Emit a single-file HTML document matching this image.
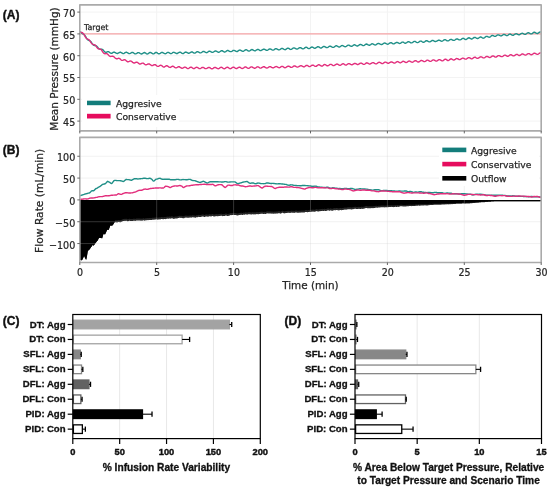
<!DOCTYPE html><html><head><meta charset="utf-8"><style>html,body{margin:0;padding:0;background:#fff;}svg{display:block;filter:blur(0.25px)}.dj{font-family:"DejaVu Sans","Liberation Sans",sans-serif;fill:#262626;stroke:#262626;stroke-width:0.25px}.lb{font-family:"Liberation Sans",Arial,sans-serif;font-weight:bold;fill:#111;stroke:#111;stroke-width:0.3px}</style></head><body>
<svg width="550" height="489" viewBox="0 0 550 489">
<rect width="550" height="489" fill="#fff"/>
<line x1="156.7" y1="4.9" x2="156.7" y2="130.9" stroke="#f3f3f3" stroke-width="1"/>
<line x1="233.6" y1="4.9" x2="233.6" y2="130.9" stroke="#f3f3f3" stroke-width="1"/>
<line x1="310.5" y1="4.9" x2="310.5" y2="130.9" stroke="#f3f3f3" stroke-width="1"/>
<line x1="387.4" y1="4.9" x2="387.4" y2="130.9" stroke="#f3f3f3" stroke-width="1"/>
<line x1="464.3" y1="4.9" x2="464.3" y2="130.9" stroke="#f3f3f3" stroke-width="1"/>
<line x1="79.8" y1="121.1" x2="541.2" y2="121.1" stroke="#f3f3f3" stroke-width="1"/>
<line x1="79.8" y1="99.3" x2="541.2" y2="99.3" stroke="#f3f3f3" stroke-width="1"/>
<line x1="79.8" y1="77.5" x2="541.2" y2="77.5" stroke="#f3f3f3" stroke-width="1"/>
<line x1="79.8" y1="55.7" x2="541.2" y2="55.7" stroke="#f3f3f3" stroke-width="1"/>
<line x1="79.8" y1="33.9" x2="541.2" y2="33.9" stroke="#f3f3f3" stroke-width="1"/>
<line x1="79.8" y1="12.1" x2="541.2" y2="12.1" stroke="#f3f3f3" stroke-width="1"/>
<line x1="79.8" y1="33.9" x2="541.2" y2="33.9" stroke="#f6a3a6" stroke-width="1.2"/>
<text class="dj" x="84.0" y="29.7" font-size="7.9">Target</text>
<path d="M80.2,31.41 L80.7,32.03 L81.2,32.62 L81.7,33.12 L82.2,33.5 L82.7,33.8 L83.2,34.02 L83.7,34.26 L84.2,34.63 L84.7,35.14 L85.2,35.84 L85.7,36.67 L86.2,37.59 L86.7,38.48 L87.2,39.21 L87.7,39.76 L88.2,40.14 L88.7,40.35 L89.2,40.52 L89.7,40.71 L90.2,41 L90.7,41.45 L91.2,42.06 L91.7,42.79 L92.2,43.58 L92.7,44.31 L93.2,44.87 L93.7,45.25 L94.2,45.45 L94.7,45.5 L95.2,45.51 L95.7,45.56 L96.2,45.78 L96.7,46.13 L97.2,46.64 L97.7,47.27 L98.2,47.9 L98.7,48.48 L99.2,48.91 L99.7,49.18 L100.2,49.3 L100.7,49.29 L101.2,49.23 L101.7,49.21 L102.2,49.32 L102.7,49.61 L103.2,50.09 L103.7,50.66 L104.2,51.26 L104.7,51.77 L105.2,52.13 L105.7,52.29 L106.2,52.27 L106.7,52.07 L107.2,51.83 L107.7,51.64 L108.2,51.6 L108.7,51.73 L109.2,52.04 L109.7,52.44 L110.2,52.84 L110.7,53.16 L111.2,53.3 L111.7,53.26 L112.2,53.04 L112.7,52.73 L113.2,52.44 L113.7,52.22 L114.2,52.18 L114.7,52.29 L115.2,52.55 L115.7,52.87 L116.2,53.19 L116.7,53.42 L117.2,53.49 L117.7,53.44 L118.2,53.22 L118.7,52.91 L119.2,52.6 L119.7,52.33 L120.2,52.23 L120.7,52.31 L121.2,52.55 L121.7,52.88 L122.2,53.22 L122.7,53.48 L123.2,53.61 L123.7,53.52 L124.2,53.26 L124.7,52.94 L125.2,52.63 L125.7,52.38 L126.2,52.27 L126.7,52.31 L127.2,52.53 L127.7,52.87 L128.2,53.2 L128.7,53.49 L129.2,53.65 L129.7,53.62 L130.2,53.41 L130.7,53.11 L131.2,52.78 L131.7,52.5 L132.2,52.39 L132.7,52.45 L133.2,52.67 L133.7,53.01 L134.2,53.39 L134.7,53.72 L135.2,53.88 L135.7,53.89 L136.2,53.7 L136.7,53.39 L137.2,53.02 L137.7,52.73 L138.2,52.59 L138.7,52.62 L139.2,52.82 L139.7,53.13 L140.2,53.47 L140.7,53.78 L141.2,53.94 L141.7,53.93 L142.2,53.73 L142.7,53.42 L143.2,53.05 L143.7,52.74 L144.2,52.55 L144.7,52.56 L145.2,52.79 L145.7,53.17 L146.2,53.56 L146.7,53.87 L147.2,53.98 L147.7,53.88 L148.2,53.6 L148.7,53.23 L149.2,52.85 L149.7,52.56 L150.2,52.46 L150.7,52.52 L151.2,52.75 L151.7,53.09 L152.2,53.46 L152.7,53.77 L153.2,53.9 L153.7,53.83 L154.2,53.54 L154.7,53.14 L155.2,52.75 L155.7,52.5 L156.2,52.42 L156.7,52.54 L157.2,52.86 L157.7,53.24 L158.2,53.57 L158.7,53.76 L159.2,53.78 L159.7,53.63 L160.2,53.34 L160.7,53.01 L161.2,52.69 L161.7,52.46 L162.2,52.4 L162.7,52.53 L163.2,52.77 L163.7,53.08 L164.2,53.38 L164.7,53.62 L165.2,53.71 L165.7,53.59 L166.2,53.33 L166.7,52.98 L167.2,52.64 L167.7,52.41 L168.2,52.36 L168.7,52.49 L169.2,52.78 L169.7,53.15 L170.2,53.47 L170.7,53.61 L171.2,53.56 L171.7,53.33 L172.2,53.01 L172.7,52.67 L173.2,52.42 L173.7,52.31 L174.2,52.38 L174.7,52.6 L175.2,52.92 L175.7,53.23 L176.2,53.47 L176.7,53.55 L177.2,53.48 L177.7,53.27 L178.2,52.95 L178.7,52.59 L179.2,52.31 L179.7,52.16 L180.2,52.2 L180.7,52.41 L181.2,52.74 L181.7,53.11 L182.2,53.42 L182.7,53.56 L183.2,53.5 L183.7,53.26 L184.2,52.9 L184.7,52.51 L185.2,52.21 L185.7,52.05 L186.2,52.1 L186.7,52.33 L187.2,52.64 L187.7,52.97 L188.2,53.21 L188.7,53.28 L189.2,53.21 L189.7,52.97 L190.2,52.64 L190.7,52.29 L191.2,52.02 L191.7,51.89 L192.2,51.96 L192.7,52.21 L193.2,52.55 L193.7,52.88 L194.2,53.1 L194.7,53.14 L195.2,52.99 L195.7,52.66 L196.2,52.26 L196.7,51.89 L197.2,51.67 L197.7,51.62 L198.2,51.79 L198.7,52.09 L199.2,52.42 L199.7,52.72 L200.2,52.87 L200.7,52.83 L201.2,52.67 L201.7,52.37 L202.2,52.02 L202.7,51.71 L203.2,51.48 L203.7,51.41 L204.2,51.53 L204.7,51.79 L205.2,52.13 L205.7,52.42 L206.2,52.64 L206.7,52.69 L207.2,52.51 L207.7,52.19 L208.2,51.79 L208.7,51.43 L209.2,51.24 L209.7,51.23 L210.2,51.38 L210.7,51.64 L211.2,51.95 L211.7,52.21 L212.2,52.36 L212.7,52.32 L213.2,52.14 L213.7,51.84 L214.2,51.51 L214.7,51.22 L215.2,51.05 L215.7,51.03 L216.2,51.17 L216.7,51.42 L217.2,51.72 L217.7,51.99 L218.2,52.18 L218.7,52.22 L219.2,52.09 L219.7,51.8 L220.2,51.45 L220.7,51.09 L221.2,50.81 L221.7,50.71 L222.2,50.76 L222.7,50.99 L223.2,51.33 L223.7,51.67 L224.2,51.94 L224.7,52.03 L225.2,51.91 L225.7,51.61 L226.2,51.22 L226.7,50.83 L227.2,50.52 L227.7,50.44 L228.2,50.54 L228.7,50.8 L229.2,51.13 L229.7,51.43 L230.2,51.62 L230.7,51.66 L231.2,51.56 L231.7,51.35 L232.2,51.05 L232.7,50.73 L233.2,50.46 L233.7,50.34 L234.2,50.34 L234.7,50.53 L235.2,50.8 L235.7,51.13 L236.2,51.4 L236.7,51.53 L237.2,51.49 L237.7,51.26 L238.2,50.89 L238.7,50.5 L239.2,50.2 L239.7,50.07 L240.2,50.1 L240.7,50.28 L241.2,50.57 L241.7,50.9 L242.2,51.17 L242.7,51.3 L243.2,51.26 L243.7,51.04 L244.2,50.71 L244.7,50.33 L245.2,50 L245.7,49.8 L246.2,49.77 L246.7,49.93 L247.2,50.24 L247.7,50.6 L248.2,50.89 L248.7,51.04 L249.2,51.04 L249.7,50.86 L250.2,50.51 L250.7,50.12 L251.2,49.79 L251.7,49.57 L252.2,49.55 L252.7,49.73 L253.2,50.04 L253.7,50.39 L254.2,50.67 L254.7,50.81 L255.2,50.79 L255.7,50.55 L256.2,50.19 L256.7,49.81 L257.2,49.52 L257.7,49.38 L258.2,49.43 L258.7,49.65 L259.2,49.97 L259.7,50.29 L260.2,50.52 L260.7,50.61 L261.2,50.5 L261.7,50.23 L262.2,49.89 L262.7,49.54 L263.2,49.27 L263.7,49.13 L264.2,49.2 L264.7,49.41 L265.2,49.7 L265.7,50 L266.2,50.22 L266.7,50.32 L267.2,50.28 L267.7,50.08 L268.2,49.77 L268.7,49.44 L269.2,49.15 L269.7,48.97 L270.2,48.94 L270.7,49.09 L271.2,49.35 L271.7,49.67 L272.2,49.94 L272.7,50.11 L273.2,50.11 L273.7,49.9 L274.2,49.58 L274.7,49.21 L275.2,48.9 L275.7,48.7 L276.2,48.69 L276.7,48.86 L277.2,49.13 L277.7,49.46 L278.2,49.75 L278.7,49.91 L279.2,49.9 L279.7,49.7 L280.2,49.39 L280.7,49.03 L281.2,48.71 L281.7,48.48 L282.2,48.41 L282.7,48.5 L283.2,48.76 L283.7,49.11 L284.2,49.44 L284.7,49.67 L285.2,49.7 L285.7,49.51 L286.2,49.16 L286.7,48.75 L287.2,48.4 L287.7,48.21 L288.2,48.18 L288.7,48.36 L289.2,48.68 L289.7,49.03 L290.2,49.33 L290.7,49.43 L291.2,49.37 L291.7,49.1 L292.2,48.74 L292.7,48.37 L293.2,48.07 L293.7,47.92 L294.2,47.92 L294.7,48.1 L295.2,48.36 L295.7,48.65 L296.2,48.88 L296.7,49 L297.2,48.99 L297.7,48.81 L298.2,48.54 L298.7,48.21 L299.2,47.91 L299.7,47.72 L300.2,47.65 L300.7,47.74 L301.2,47.98 L301.7,48.31 L302.2,48.63 L302.7,48.82 L303.2,48.83 L303.7,48.66 L304.2,48.32 L304.7,47.91 L305.2,47.56 L305.7,47.31 L306.2,47.24 L306.7,47.41 L307.2,47.71 L307.7,48.05 L308.2,48.35 L308.7,48.55 L309.2,48.56 L309.7,48.34 L310.2,47.98 L310.7,47.58 L311.2,47.26 L311.7,47.06 L312.2,47.07 L312.7,47.23 L313.2,47.51 L313.7,47.84 L314.2,48.12 L314.7,48.26 L315.2,48.21 L315.7,48.01 L316.2,47.69 L316.7,47.31 L317.2,46.95 L317.7,46.75 L318.2,46.69 L318.7,46.82 L319.2,47.12 L319.7,47.48 L320.2,47.8 L320.7,47.98 L321.2,47.97 L321.7,47.79 L322.2,47.44 L322.7,47.03 L323.2,46.66 L323.7,46.43 L324.2,46.38 L324.7,46.56 L325.2,46.88 L325.7,47.24 L326.2,47.51 L326.7,47.65 L327.2,47.64 L327.7,47.42 L328.2,47.11 L328.7,46.77 L329.2,46.45 L329.7,46.24 L330.2,46.21 L330.7,46.31 L331.2,46.52 L331.7,46.82 L332.2,47.11 L332.7,47.33 L333.2,47.4 L333.7,47.26 L334.2,47 L334.7,46.63 L335.2,46.25 L335.7,45.95 L336.2,45.79 L336.7,45.82 L337.2,46.04 L337.7,46.37 L338.2,46.7 L338.7,46.94 L339.2,47.04 L339.7,46.95 L340.2,46.68 L340.7,46.31 L341.2,45.94 L341.7,45.67 L342.2,45.55 L342.7,45.59 L343.2,45.78 L343.7,46.06 L344.2,46.36 L344.7,46.59 L345.2,46.7 L345.7,46.6 L346.2,46.36 L346.7,46 L347.2,45.62 L347.7,45.3 L348.2,45.11 L348.7,45.1 L349.2,45.27 L349.7,45.56 L350.2,45.89 L350.7,46.16 L351.2,46.31 L351.7,46.26 L352.2,46.06 L352.7,45.72 L353.2,45.33 L353.7,44.97 L354.2,44.79 L354.7,44.79 L355.2,44.99 L355.7,45.29 L356.2,45.63 L356.7,45.9 L357.2,46.04 L357.7,45.98 L358.2,45.71 L358.7,45.33 L359.2,44.94 L359.7,44.65 L360.2,44.49 L360.7,44.47 L361.2,44.61 L361.7,44.88 L362.2,45.2 L362.7,45.47 L363.2,45.61 L363.7,45.59 L364.2,45.38 L364.7,45.02 L365.2,44.6 L365.7,44.23 L366.2,44.03 L366.7,44.04 L367.2,44.25 L367.7,44.58 L368.2,44.93 L368.7,45.18 L369.2,45.29 L369.7,45.21 L370.2,44.95 L370.7,44.6 L371.2,44.21 L371.7,43.92 L372.2,43.79 L372.7,43.83 L373.2,44.04 L373.7,44.33 L374.2,44.65 L374.7,44.89 L375.2,44.98 L375.7,44.88 L376.2,44.61 L376.7,44.24 L377.2,43.87 L377.7,43.58 L378.2,43.43 L378.7,43.44 L379.2,43.58 L379.7,43.85 L380.2,44.16 L380.7,44.4 L381.2,44.52 L381.7,44.51 L382.2,44.34 L382.7,44.04 L383.2,43.67 L383.7,43.34 L384.2,43.1 L384.7,43.01 L385.2,43.1 L385.7,43.37 L386.2,43.68 L386.7,43.97 L387.2,44.17 L387.7,44.25 L388.2,44.09 L388.7,43.78 L389.2,43.42 L389.7,43.09 L390.2,42.81 L390.7,42.7 L391.2,42.75 L391.7,42.98 L392.2,43.27 L392.7,43.57 L393.2,43.78 L393.7,43.85 L394.2,43.74 L394.7,43.5 L395.2,43.15 L395.7,42.79 L396.2,42.5 L396.7,42.39 L397.2,42.43 L397.7,42.62 L398.2,42.9 L398.7,43.2 L399.2,43.41 L399.7,43.51 L400.2,43.42 L400.7,43.13 L401.2,42.75 L401.7,42.39 L402.2,42.14 L402.7,42.07 L403.2,42.16 L403.7,42.44 L404.2,42.77 L404.7,43.07 L405.2,43.22 L405.7,43.19 L406.2,42.97 L406.7,42.64 L407.2,42.28 L407.7,41.95 L408.2,41.77 L408.7,41.74 L409.2,41.92 L409.7,42.18 L410.2,42.49 L410.7,42.76 L411.2,42.88 L411.7,42.89 L412.2,42.7 L412.7,42.38 L413.2,41.98 L413.7,41.6 L414.2,41.38 L414.7,41.33 L415.2,41.46 L415.7,41.74 L416.2,42.11 L416.7,42.43 L417.2,42.61 L417.7,42.61 L418.2,42.41 L418.7,42.1 L419.2,41.73 L419.7,41.38 L420.2,41.16 L420.7,41.07 L421.2,41.16 L421.7,41.44 L422.2,41.76 L422.7,42.06 L423.2,42.24 L423.7,42.22 L424.2,42.08 L424.7,41.77 L425.2,41.38 L425.7,41 L426.2,40.75 L426.7,40.66 L427.2,40.79 L427.7,41.06 L428.2,41.39 L428.7,41.69 L429.2,41.9 L429.7,41.91 L430.2,41.76 L430.7,41.45 L431.2,41.08 L431.7,40.74 L432.2,40.5 L432.7,40.44 L433.2,40.54 L433.7,40.74 L434.2,41.02 L434.7,41.29 L435.2,41.49 L435.7,41.52 L436.2,41.41 L436.7,41.16 L437.2,40.83 L437.7,40.51 L438.2,40.26 L438.7,40.15 L439.2,40.21 L439.7,40.39 L440.2,40.67 L440.7,40.95 L441.2,41.17 L441.7,41.25 L442.2,41.14 L442.7,40.88 L443.2,40.53 L443.7,40.16 L444.2,39.85 L444.7,39.7 L445.2,39.71 L445.7,39.91 L446.2,40.24 L446.7,40.56 L447.2,40.79 L447.7,40.89 L448.2,40.81 L448.7,40.58 L449.2,40.25 L449.7,39.88 L450.2,39.56 L450.7,39.39 L451.2,39.36 L451.7,39.51 L452.2,39.78 L452.7,40.08 L453.2,40.31 L453.7,40.38 L454.2,40.29 L454.7,40.07 L455.2,39.76 L455.7,39.42 L456.2,39.14 L456.7,38.97 L457.2,38.93 L457.7,39.03 L458.2,39.28 L458.7,39.56 L459.2,39.8 L459.7,39.92 L460.2,39.89 L460.7,39.69 L461.2,39.38 L461.7,38.97 L462.2,38.58 L462.7,38.37 L463.2,38.32 L463.7,38.45 L464.2,38.74 L464.7,39.09 L465.2,39.38 L465.7,39.52 L466.2,39.47 L466.7,39.18 L467.2,38.78 L467.7,38.33 L468.2,37.98 L468.7,37.8 L469.2,37.79 L469.7,38.01 L470.2,38.35 L470.7,38.7 L471.2,38.94 L471.7,39 L472.2,38.85 L472.7,38.52 L473.2,38.1 L473.7,37.72 L474.2,37.46 L474.7,37.37 L475.2,37.47 L475.7,37.71 L476.2,38.01 L476.7,38.29 L477.2,38.45 L477.7,38.48 L478.2,38.3 L478.7,37.99 L479.2,37.62 L479.7,37.28 L480.2,37.06 L480.7,37 L481.2,37.16 L481.7,37.43 L482.2,37.76 L482.7,38.05 L483.2,38.18 L483.7,38.16 L484.2,37.91 L484.7,37.54 L485.2,37.09 L485.7,36.69 L486.2,36.42 L486.7,36.33 L487.2,36.45 L487.7,36.68 L488.2,36.95 L488.7,37.18 L489.2,37.26 L489.7,37.17 L490.2,36.88 L490.7,36.47 L491.2,36.01 L491.7,35.62 L492.2,35.38 L492.7,35.4 L493.2,35.59 L493.7,35.88 L494.2,36.17 L494.7,36.38 L495.2,36.39 L495.7,36.22 L496.2,35.93 L496.7,35.53 L497.2,35.17 L497.7,34.92 L498.2,34.84 L498.7,34.95 L499.2,35.18 L499.7,35.48 L500.2,35.73 L500.7,35.9 L501.2,35.9 L501.7,35.73 L502.2,35.42 L502.7,35.05 L503.2,34.7 L503.7,34.47 L504.2,34.42 L504.7,34.57 L505.2,34.86 L505.7,35.19 L506.2,35.46 L506.7,35.61 L507.2,35.55 L507.7,35.31 L508.2,34.96 L508.7,34.58 L509.2,34.26 L509.7,34.08 L510.2,34.06 L510.7,34.25 L511.2,34.54 L511.7,34.86 L512.2,35.15 L512.7,35.29 L513.2,35.25 L513.7,35.03 L514.2,34.71 L514.7,34.35 L515.2,34.02 L515.7,33.83 L516.2,33.77 L516.7,33.92 L517.2,34.17 L517.7,34.46 L518.2,34.69 L518.7,34.8 L519.2,34.77 L519.7,34.56 L520.2,34.26 L520.7,33.89 L521.2,33.55 L521.7,33.32 L522.2,33.24 L522.7,33.37 L523.2,33.59 L523.7,33.87 L524.2,34.17 L524.7,34.36 L525.2,34.39 L525.7,34.23 L526.2,33.94 L526.7,33.54 L527.2,33.17 L527.7,32.9 L528.2,32.78 L528.7,32.81 L529.2,32.99 L529.7,33.29 L530.2,33.6 L530.7,33.82 L531.2,33.9 L531.7,33.79 L532.2,33.52 L532.7,33.13 L533.2,32.72 L533.7,32.42 L534.2,32.26 L534.7,32.29 L535.2,32.51 L535.7,32.82 L536.2,33.15 L536.7,33.41 L537.2,33.51 L537.7,33.44 L538.2,33.19 L538.7,32.8 L539.2,32.41 L539.7,32.08 L540.2,31.9 L540.7,31.93" fill="none" stroke="#1f8f87" stroke-width="1.4" stroke-linejoin="round"/>
<path d="M80.2,32 L80.7,32.25 L81.2,32.4 L81.7,32.5 L82.2,32.64 L82.7,32.95 L83.2,33.43 L83.7,34.07 L84.2,34.89 L84.7,35.81 L85.2,36.71 L85.7,37.53 L86.2,38.16 L86.7,38.61 L87.2,38.88 L87.7,39.07 L88.2,39.28 L88.7,39.57 L89.2,40.01 L89.7,40.6 L90.2,41.33 L90.7,42.11 L91.2,42.87 L91.7,43.53 L92.2,44.02 L92.7,44.35 L93.2,44.52 L93.7,44.62 L94.2,44.71 L94.7,44.88 L95.2,45.18 L95.7,45.68 L96.2,46.34 L96.7,47.1 L97.2,47.81 L97.7,48.38 L98.2,48.74 L98.7,48.91 L99.2,48.97 L99.7,48.99 L100.2,49.07 L100.7,49.29 L101.2,49.67 L101.7,50.27 L102.2,51.01 L102.7,51.78 L103.2,52.5 L103.7,53.09 L104.2,53.51 L104.7,53.69 L105.2,53.7 L105.7,53.63 L106.2,53.57 L106.7,53.66 L107.2,53.9 L107.7,54.31 L108.2,54.8 L108.7,55.34 L109.2,55.85 L109.7,56.21 L110.2,56.42 L110.7,56.46 L111.2,56.42 L111.7,56.31 L112.2,56.22 L112.7,56.23 L113.2,56.37 L113.7,56.65 L114.2,57.1 L114.7,57.61 L115.2,58.09 L115.7,58.49 L116.2,58.73 L116.7,58.8 L117.2,58.73 L117.7,58.54 L118.2,58.34 L118.7,58.24 L119.2,58.33 L119.7,58.6 L120.2,59.03 L120.7,59.53 L121.2,59.97 L121.7,60.31 L122.2,60.41 L122.7,60.33 L123.2,60.12 L123.7,59.88 L124.2,59.74 L124.7,59.75 L125.2,59.95 L125.7,60.28 L126.2,60.72 L126.7,61.17 L127.2,61.52 L127.7,61.75 L128.2,61.78 L128.7,61.66 L129.2,61.44 L129.7,61.2 L130.2,61.06 L130.7,61.06 L131.2,61.19 L131.7,61.49 L132.2,61.91 L132.7,62.35 L133.2,62.72 L133.7,62.99 L134.2,63.05 L134.7,62.95 L135.2,62.74 L135.7,62.46 L136.2,62.25 L136.7,62.16 L137.2,62.26 L137.7,62.54 L138.2,62.95 L138.7,63.4 L139.2,63.79 L139.7,64.02 L140.2,64.03 L140.7,63.86 L141.2,63.59 L141.7,63.31 L142.2,63.13 L142.7,63.09 L143.2,63.2 L143.7,63.46 L144.2,63.84 L144.7,64.23 L145.2,64.57 L145.7,64.78 L146.2,64.78 L146.7,64.66 L147.2,64.44 L147.7,64.19 L148.2,64 L148.7,63.91 L149.2,63.97 L149.7,64.21 L150.2,64.55 L150.7,64.93 L151.2,65.29 L151.7,65.51 L152.2,65.59 L152.7,65.5 L153.2,65.25 L153.7,64.97 L154.2,64.74 L154.7,64.64 L155.2,64.72 L155.7,64.99 L156.2,65.39 L156.7,65.83 L157.2,66.18 L157.7,66.37 L158.2,66.38 L158.7,66.23 L159.2,65.96 L159.7,65.67 L160.2,65.42 L160.7,65.3 L161.2,65.4 L161.7,65.67 L162.2,66.07 L162.7,66.49 L163.2,66.83 L163.7,67.02 L164.2,66.99 L164.7,66.78 L165.2,66.43 L165.7,66.06 L166.2,65.78 L166.7,65.69 L167.2,65.8 L167.7,66.09 L168.2,66.48 L168.7,66.89 L169.2,67.22 L169.7,67.42 L170.2,67.44 L170.7,67.26 L171.2,66.94 L171.7,66.59 L172.2,66.3 L172.7,66.19 L173.2,66.28 L173.7,66.54 L174.2,66.93 L174.7,67.34 L175.2,67.66 L175.7,67.85 L176.2,67.82 L176.7,67.61 L177.2,67.32 L177.7,67.01 L178.2,66.77 L178.7,66.66 L179.2,66.75 L179.7,67 L180.2,67.34 L180.7,67.7 L181.2,68 L181.7,68.19 L182.2,68.23 L182.7,68.11 L183.2,67.85 L183.7,67.53 L184.2,67.26 L184.7,67.1 L185.2,67.14 L185.7,67.33 L186.2,67.63 L186.7,68.02 L187.2,68.35 L187.7,68.54 L188.2,68.55 L188.7,68.33 L189.2,68 L189.7,67.64 L190.2,67.34 L190.7,67.16 L191.2,67.2 L191.7,67.41 L192.2,67.79 L192.7,68.18 L193.2,68.47 L193.7,68.58 L194.2,68.51 L194.7,68.28 L195.2,67.96 L195.7,67.62 L196.2,67.36 L196.7,67.26 L197.2,67.34 L197.7,67.59 L198.2,67.94 L198.7,68.26 L199.2,68.53 L199.7,68.62 L200.2,68.57 L200.7,68.35 L201.2,68.03 L201.7,67.69 L202.2,67.45 L202.7,67.36 L203.2,67.44 L203.7,67.68 L204.2,67.97 L204.7,68.29 L205.2,68.54 L205.7,68.64 L206.2,68.63 L206.7,68.46 L207.2,68.18 L207.7,67.87 L208.2,67.61 L208.7,67.43 L209.2,67.44 L209.7,67.65 L210.2,67.95 L210.7,68.29 L211.2,68.56 L211.7,68.73 L212.2,68.75 L212.7,68.58 L213.2,68.29 L213.7,67.95 L214.2,67.65 L214.7,67.46 L215.2,67.43 L215.7,67.54 L216.2,67.78 L216.7,68.11 L217.2,68.44 L217.7,68.66 L218.2,68.74 L218.7,68.62 L219.2,68.35 L219.7,67.99 L220.2,67.63 L220.7,67.37 L221.2,67.28 L221.7,67.39 L222.2,67.66 L222.7,68.03 L223.2,68.39 L223.7,68.64 L224.2,68.74 L224.7,68.6 L225.2,68.33 L225.7,67.97 L226.2,67.6 L226.7,67.32 L227.2,67.23 L227.7,67.27 L228.2,67.5 L228.7,67.87 L229.2,68.25 L229.7,68.55 L230.2,68.69 L230.7,68.65 L231.2,68.43 L231.7,68.04 L232.2,67.64 L232.7,67.34 L233.2,67.19 L233.7,67.21 L234.2,67.45 L234.7,67.79 L235.2,68.15 L235.7,68.42 L236.2,68.55 L236.7,68.5 L237.2,68.27 L237.7,67.96 L238.2,67.62 L238.7,67.33 L239.2,67.19 L239.7,67.21 L240.2,67.41 L240.7,67.73 L241.2,68.09 L241.7,68.35 L242.2,68.49 L242.7,68.39 L243.2,68.15 L243.7,67.82 L244.2,67.47 L244.7,67.18 L245.2,67.01 L245.7,67.02 L246.2,67.2 L246.7,67.52 L247.2,67.87 L247.7,68.16 L248.2,68.34 L248.7,68.32 L249.2,68.13 L249.7,67.81 L250.2,67.42 L250.7,67.09 L251.2,66.9 L251.7,66.89 L252.2,67.03 L252.7,67.32 L253.2,67.67 L253.7,67.98 L254.2,68.22 L254.7,68.26 L255.2,68.11 L255.7,67.84 L256.2,67.47 L256.7,67.12 L257.2,66.87 L257.7,66.82 L258.2,66.92 L258.7,67.19 L259.2,67.53 L259.7,67.87 L260.2,68.1 L260.7,68.14 L261.2,67.99 L261.7,67.72 L262.2,67.37 L262.7,67.03 L263.2,66.78 L263.7,66.7 L264.2,66.77 L264.7,66.98 L265.2,67.29 L265.7,67.61 L266.2,67.86 L266.7,67.98 L267.2,67.95 L267.7,67.78 L268.2,67.48 L268.7,67.14 L269.2,66.85 L269.7,66.67 L270.2,66.65 L270.7,66.77 L271.2,67.04 L271.7,67.35 L272.2,67.63 L272.7,67.78 L273.2,67.82 L273.7,67.7 L274.2,67.44 L274.7,67.12 L275.2,66.82 L275.7,66.62 L276.2,66.55 L276.7,66.61 L277.2,66.82 L277.7,67.12 L278.2,67.43 L278.7,67.68 L279.2,67.79 L279.7,67.68 L280.2,67.41 L280.7,67.03 L281.2,66.65 L281.7,66.4 L282.2,66.33 L282.7,66.46 L283.2,66.77 L283.7,67.14 L284.2,67.49 L284.7,67.68 L285.2,67.69 L285.7,67.54 L286.2,67.25 L286.7,66.89 L287.2,66.54 L287.7,66.3 L288.2,66.17 L288.7,66.23 L289.2,66.44 L289.7,66.72 L290.2,67.02 L290.7,67.23 L291.2,67.36 L291.7,67.34 L292.2,67.15 L292.7,66.83 L293.2,66.46 L293.7,66.14 L294.2,65.94 L294.7,65.91 L295.2,66.04 L295.7,66.31 L296.2,66.62 L296.7,66.89 L297.2,67.07 L297.7,67.1 L298.2,66.95 L298.7,66.68 L299.2,66.37 L299.7,66.06 L300.2,65.82 L300.7,65.68 L301.2,65.72 L301.7,65.91 L302.2,66.19 L302.7,66.49 L303.2,66.75 L303.7,66.86 L304.2,66.77 L304.7,66.52 L305.2,66.17 L305.7,65.78 L306.2,65.46 L306.7,65.36 L307.2,65.44 L307.7,65.68 L308.2,66 L308.7,66.33 L309.2,66.55 L309.7,66.59 L310.2,66.42 L310.7,66.13 L311.2,65.78 L311.7,65.46 L312.2,65.21 L312.7,65.13 L313.2,65.2 L313.7,65.44 L314.2,65.76 L314.7,66.06 L315.2,66.28 L315.7,66.34 L316.2,66.25 L316.7,66 L317.2,65.63 L317.7,65.25 L318.2,64.92 L318.7,64.75 L319.2,64.77 L319.7,64.99 L320.2,65.32 L320.7,65.7 L321.2,66.02 L321.7,66.17 L322.2,66.1 L322.7,65.8 L323.2,65.39 L323.7,64.96 L324.2,64.64 L324.7,64.52 L325.2,64.62 L325.7,64.88 L326.2,65.22 L326.7,65.55 L327.2,65.74 L327.7,65.79 L328.2,65.63 L328.7,65.33 L329.2,64.96 L329.7,64.63 L330.2,64.39 L330.7,64.32 L331.2,64.41 L331.7,64.65 L332.2,64.98 L332.7,65.31 L333.2,65.54 L333.7,65.6 L334.2,65.49 L334.7,65.24 L335.2,64.9 L335.7,64.53 L336.2,64.23 L336.7,64.06 L337.2,64.05 L337.7,64.22 L338.2,64.5 L338.7,64.81 L339.2,65.07 L339.7,65.21 L340.2,65.23 L340.7,65.05 L341.2,64.74 L341.7,64.37 L342.2,64.03 L342.7,63.82 L343.2,63.78 L343.7,63.93 L344.2,64.24 L344.7,64.61 L345.2,64.91 L345.7,65.07 L346.2,65.03 L346.7,64.79 L347.2,64.43 L347.7,64.05 L348.2,63.74 L348.7,63.6 L349.2,63.62 L349.7,63.83 L350.2,64.13 L350.7,64.44 L351.2,64.68 L351.7,64.79 L352.2,64.72 L352.7,64.51 L353.2,64.17 L353.7,63.81 L354.2,63.52 L354.7,63.4 L355.2,63.43 L355.7,63.61 L356.2,63.9 L356.7,64.21 L357.2,64.46 L357.7,64.52 L358.2,64.45 L358.7,64.23 L359.2,63.88 L359.7,63.52 L360.2,63.23 L360.7,63.08 L361.2,63.08 L361.7,63.27 L362.2,63.59 L362.7,63.94 L363.2,64.23 L363.7,64.37 L364.2,64.36 L364.7,64.12 L365.2,63.75 L365.7,63.34 L366.2,63 L366.7,62.81 L367.2,62.84 L367.7,63.07 L368.2,63.39 L368.7,63.73 L369.2,63.98 L369.7,64.07 L370.2,63.99 L370.7,63.74 L371.2,63.42 L371.7,63.09 L372.2,62.8 L372.7,62.66 L373.2,62.64 L373.7,62.78 L374.2,63.06 L374.7,63.39 L375.2,63.67 L375.7,63.85 L376.2,63.87 L376.7,63.71 L377.2,63.41 L377.7,63.04 L378.2,62.67 L378.7,62.41 L379.2,62.3 L379.7,62.38 L380.2,62.59 L380.7,62.91 L381.2,63.22 L381.7,63.51 L382.2,63.63 L382.7,63.56 L383.2,63.3 L383.7,62.94 L384.2,62.56 L384.7,62.27 L385.2,62.11 L385.7,62.16 L386.2,62.36 L386.7,62.66 L387.2,62.97 L387.7,63.22 L388.2,63.3 L388.7,63.2 L389.2,62.94 L389.7,62.6 L390.2,62.26 L390.7,62.01 L391.2,61.9 L391.7,61.97 L392.2,62.17 L392.7,62.45 L393.2,62.74 L393.7,62.98 L394.2,63.08 L394.7,63.01 L395.2,62.79 L395.7,62.47 L396.2,62.11 L396.7,61.79 L397.2,61.59 L397.7,61.57 L398.2,61.74 L398.7,62.03 L399.2,62.39 L399.7,62.69 L400.2,62.83 L400.7,62.74 L401.2,62.47 L401.7,62.09 L402.2,61.69 L402.7,61.41 L403.2,61.29 L403.7,61.37 L404.2,61.62 L404.7,61.93 L405.2,62.24 L405.7,62.43 L406.2,62.46 L406.7,62.36 L407.2,62.1 L407.7,61.77 L408.2,61.43 L408.7,61.16 L409.2,61.04 L409.7,61.11 L410.2,61.32 L410.7,61.61 L411.2,61.9 L411.7,62.09 L412.2,62.19 L412.7,62.11 L413.2,61.86 L413.7,61.52 L414.2,61.14 L414.7,60.85 L415.2,60.7 L415.7,60.73 L416.2,60.92 L416.7,61.21 L417.2,61.54 L417.7,61.83 L418.2,61.99 L418.7,61.96 L419.2,61.76 L419.7,61.41 L420.2,61.03 L420.7,60.7 L421.2,60.5 L421.7,60.47 L422.2,60.59 L422.7,60.88 L423.2,61.21 L423.7,61.5 L424.2,61.62 L424.7,61.6 L425.2,61.41 L425.7,61.07 L426.2,60.69 L426.7,60.37 L427.2,60.17 L427.7,60.14 L428.2,60.3 L428.7,60.6 L429.2,60.94 L429.7,61.22 L430.2,61.37 L430.7,61.36 L431.2,61.14 L431.7,60.79 L432.2,60.41 L432.7,60.06 L433.2,59.88 L433.7,59.87 L434.2,60.07 L434.7,60.37 L435.2,60.7 L435.7,60.95 L436.2,61.07 L436.7,61 L437.2,60.76 L437.7,60.42 L438.2,60.05 L438.7,59.75 L439.2,59.6 L439.7,59.6 L440.2,59.8 L440.7,60.1 L441.2,60.44 L441.7,60.71 L442.2,60.86 L442.7,60.8 L443.2,60.55 L443.7,60.17 L444.2,59.74 L444.7,59.38 L445.2,59.19 L445.7,59.23 L446.2,59.48 L446.7,59.86 L447.2,60.24 L447.7,60.51 L448.2,60.58 L448.7,60.4 L449.2,60.04 L449.7,59.59 L450.2,59.17 L450.7,58.88 L451.2,58.81 L451.7,58.97 L452.2,59.28 L452.7,59.62 L453.2,59.9 L453.7,60.05 L454.2,59.97 L454.7,59.71 L455.2,59.36 L455.7,58.99 L456.2,58.67 L456.7,58.53 L457.2,58.58 L457.7,58.75 L458.2,59 L458.7,59.3 L459.2,59.51 L459.7,59.58 L460.2,59.47 L460.7,59.24 L461.2,58.91 L461.7,58.55 L462.2,58.26 L462.7,58.14 L463.2,58.17 L463.7,58.36 L464.2,58.64 L464.7,58.91 L465.2,59.08 L465.7,59.13 L466.2,59.04 L466.7,58.78 L467.2,58.43 L467.7,58.07 L468.2,57.79 L468.7,57.65 L469.2,57.66 L469.7,57.85 L470.2,58.16 L470.7,58.5 L471.2,58.71 L471.7,58.82 L472.2,58.71 L472.7,58.39 L473.2,57.99 L473.7,57.59 L474.2,57.31 L474.7,57.19 L475.2,57.24 L475.7,57.47 L476.2,57.79 L476.7,58.07 L477.2,58.28 L477.7,58.37 L478.2,58.25 L478.7,57.99 L479.2,57.63 L479.7,57.26 L480.2,56.97 L480.7,56.82 L481.2,56.83 L481.7,56.99 L482.2,57.25 L482.7,57.55 L483.2,57.81 L483.7,57.93 L484.2,57.84 L484.7,57.6 L485.2,57.24 L485.7,56.86 L486.2,56.53 L486.7,56.33 L487.2,56.34 L487.7,56.53 L488.2,56.82 L488.7,57.13 L489.2,57.36 L489.7,57.48 L490.2,57.43 L490.7,57.19 L491.2,56.82 L491.7,56.42 L492.2,56.09 L492.7,55.93 L493.2,55.94 L493.7,56.14 L494.2,56.44 L494.7,56.77 L495.2,57.04 L495.7,57.14 L496.2,57.02 L496.7,56.73 L497.2,56.33 L497.7,55.96 L498.2,55.68 L498.7,55.58 L499.2,55.63 L499.7,55.83 L500.2,56.11 L500.7,56.39 L501.2,56.6 L501.7,56.65 L502.2,56.54 L502.7,56.31 L503.2,55.95 L503.7,55.57 L504.2,55.3 L504.7,55.15 L505.2,55.17 L505.7,55.38 L506.2,55.68 L506.7,55.99 L507.2,56.2 L507.7,56.31 L508.2,56.21 L508.7,55.92 L509.2,55.54 L509.7,55.18 L510.2,54.9 L510.7,54.75 L511.2,54.8 L511.7,55.01 L512.2,55.3 L512.7,55.6 L513.2,55.81 L513.7,55.88 L514.2,55.75 L514.7,55.47 L515.2,55.11 L515.7,54.75 L516.2,54.47 L516.7,54.35 L517.2,54.41 L517.7,54.66 L518.2,54.99 L518.7,55.29 L519.2,55.47 L519.7,55.48 L520.2,55.26 L520.7,54.91 L521.2,54.52 L521.7,54.19 L522.2,54.02 L522.7,54.03 L523.2,54.18 L523.7,54.44 L524.2,54.71 L524.7,54.93 L525.2,55.08 L525.7,55.02 L526.2,54.82 L526.7,54.52 L527.2,54.17 L527.7,53.84 L528.2,53.64 L528.7,53.58 L529.2,53.7 L529.7,53.96 L530.2,54.27 L530.7,54.56 L531.2,54.74 L531.7,54.7 L532.2,54.5 L532.7,54.13 L533.2,53.73 L533.7,53.4 L534.2,53.21 L534.7,53.18 L535.2,53.33 L535.7,53.6 L536.2,53.91 L536.7,54.18 L537.2,54.33 L537.7,54.28 L538.2,54.08 L538.7,53.77 L539.2,53.4 L539.7,53.06 L540.2,52.82 L540.7,52.74" fill="none" stroke="#e22e7c" stroke-width="1.4" stroke-linejoin="round"/>
<rect x="82" y="95" width="97" height="32" fill="#fff"/>
<rect x="87" y="100.7" width="23.6" height="4.5" fill="#137d7b"/>
<rect x="87" y="113.8" width="23.6" height="4.7" fill="#e60c5e"/>
<text class="dj" x="116" y="106.6" font-size="9.2">Aggresive</text>
<text class="dj" x="116" y="119.7" font-size="9.2">Conservative</text>
<rect x="79.8" y="4.9" width="461.4" height="126" fill="none" stroke="#aaaaaa" stroke-width="1.6" stroke-linejoin="round"/>
<line x1="77.3" y1="121.1" x2="79.8" y2="121.1" stroke="#555" stroke-width="0.9"/>
<text class="dj" transform="translate(75.3,125.9) scale(0.88,1)" font-size="10.9" text-anchor="end">45</text>
<line x1="77.3" y1="99.3" x2="79.8" y2="99.3" stroke="#555" stroke-width="0.9"/>
<text class="dj" transform="translate(75.3,104.1) scale(0.88,1)" font-size="10.9" text-anchor="end">50</text>
<line x1="77.3" y1="77.5" x2="79.8" y2="77.5" stroke="#555" stroke-width="0.9"/>
<text class="dj" transform="translate(75.3,82.3) scale(0.88,1)" font-size="10.9" text-anchor="end">55</text>
<line x1="77.3" y1="55.7" x2="79.8" y2="55.7" stroke="#555" stroke-width="0.9"/>
<text class="dj" transform="translate(75.3,60.5) scale(0.88,1)" font-size="10.9" text-anchor="end">60</text>
<line x1="77.3" y1="33.9" x2="79.8" y2="33.9" stroke="#555" stroke-width="0.9"/>
<text class="dj" transform="translate(75.3,38.7) scale(0.88,1)" font-size="10.9" text-anchor="end">65</text>
<line x1="77.3" y1="12.1" x2="79.8" y2="12.1" stroke="#555" stroke-width="0.9"/>
<text class="dj" transform="translate(75.3,16.9) scale(0.88,1)" font-size="10.9" text-anchor="end">70</text>
<line x1="79.8" y1="130.9" x2="79.8" y2="133.4" stroke="#555" stroke-width="0.9"/>
<line x1="156.7" y1="130.9" x2="156.7" y2="133.4" stroke="#555" stroke-width="0.9"/>
<line x1="233.6" y1="130.9" x2="233.6" y2="133.4" stroke="#555" stroke-width="0.9"/>
<line x1="310.5" y1="130.9" x2="310.5" y2="133.4" stroke="#555" stroke-width="0.9"/>
<line x1="387.4" y1="130.9" x2="387.4" y2="133.4" stroke="#555" stroke-width="0.9"/>
<line x1="464.3" y1="130.9" x2="464.3" y2="133.4" stroke="#555" stroke-width="0.9"/>
<line x1="541.2" y1="130.9" x2="541.2" y2="133.4" stroke="#555" stroke-width="0.9"/>
<text class="dj" font-size="10.5" text-anchor="middle" transform="translate(58.0,69) rotate(-90)">Mean Pressure (mmHg)</text>
<path d="M80.2,199.9 L80.2,260.01 L80.7,260.06 L81.2,260.21 L81.7,260.24 L82.2,260.12 L82.7,259.11 L83.2,257.9 L83.7,256.68 L84.2,255.96 L84.7,257.13 L85.2,258.33 L85.7,259.35 L86.2,259.7 L86.7,257.72 L87.2,254.75 L87.7,251.55 L88.2,250.56 L88.7,250.21 L89.2,249.75 L89.7,249.17 L90.2,248.39 L90.7,247.77 L91.2,247.12 L91.7,246.59 L92.2,245.55 L92.7,244.88 L93.2,245.2 L93.7,245.72 L94.2,244.89 L94.7,244.16 L95.2,243.41 L95.7,242.71 L96.2,242.25 L96.7,241.56 L97.2,241.09 L97.7,240.45 L98.2,239.61 L98.7,238.54 L99.2,237.66 L99.7,237.91 L100.2,237.93 L100.7,238.06 L101.2,238.07 L101.7,238.36 L102.2,238.13 L102.7,236.4 L103.2,234.68 L103.7,233.77 L104.2,234.16 L104.7,234.37 L105.2,234.16 L105.7,233.01 L106.2,232.01 L106.7,230.78 L107.2,229.83 L107.7,229.78 L108.2,229.9 L108.7,229.73 L109.2,228.45 L109.7,227.2 L110.2,225.76 L110.7,225.48 L111.2,225.55 L111.7,225.7 L112.2,225.52 L112.7,225.14 L113.2,224.53 L113.7,223.65 L114.2,222.73 L114.7,222.32 L115.2,222.34 L115.7,222.14 L116.2,222.29 L116.7,222.57 L117.2,222.47 L117.7,222.34 L118.2,221.92 L118.7,222.1 L119.2,221.9 L119.7,222.14 L120.2,222.16 L120.7,222.14 L121.2,222.09 L121.7,221.74 L122.2,221.49 L122.7,221.25 L123.2,221.06 L123.7,221.02 L124.2,220.86 L124.7,221.01 L125.2,220.92 L125.7,220.69 L126.2,220.72 L126.7,220.78 L127.2,221.13 L127.7,221.13 L128.2,221.15 L128.7,220.94 L129.2,220.78 L129.7,220.87 L130.2,220.92 L130.7,220.92 L131.2,220.9 L131.7,221.03 L132.2,221 L132.7,220.91 L133.2,220.81 L133.7,220.69 L134.2,220.63 L134.7,220.72 L135.2,220.83 L135.7,220.92 L136.2,220.52 L136.7,220.47 L137.2,220.47 L137.7,220.46 L138.2,220.53 L138.7,220.54 L139.2,220.55 L139.7,220.54 L140.2,220.46 L140.7,220.7 L141.2,220.58 L141.7,220.67 L142.2,220.68 L142.7,220.54 L143.2,220.27 L143.7,220.23 L144.2,220.6 L144.7,220.66 L145.2,220.55 L145.7,220.37 L146.2,220.36 L146.7,220.28 L147.2,220.13 L147.7,220.11 L148.2,220.17 L148.7,220.12 L149.2,220.09 L149.7,220.12 L150.2,219.98 L150.7,220.01 L151.2,219.96 L151.7,220.04 L152.2,219.86 L152.7,219.85 L153.2,219.78 L153.7,219.73 L154.2,219.55 L154.7,219.69 L155.2,219.62 L155.7,219.54 L156.2,219.35 L156.7,219.61 L157.2,219.62 L157.7,219.79 L158.2,219.48 L158.7,219.4 L159.2,219.28 L159.7,219.53 L160.2,219.54 L160.7,219.33 L161.2,218.99 L161.7,218.98 L162.2,218.93 L162.7,219.17 L163.2,219.25 L163.7,219.21 L164.2,218.96 L164.7,218.91 L165.2,219.06 L165.7,219.23 L166.2,219.01 L166.7,218.76 L167.2,218.52 L167.7,218.66 L168.2,218.68 L168.7,218.66 L169.2,218.47 L169.7,218.5 L170.2,218.49 L170.7,218.66 L171.2,218.53 L171.7,218.34 L172.2,218.33 L172.7,218.59 L173.2,218.96 L173.7,218.73 L174.2,218.73 L174.7,218.68 L175.2,218.57 L175.7,218.46 L176.2,218.4 L176.7,218.55 L177.2,218.43 L177.7,218.18 L178.2,218.03 L178.7,217.89 L179.2,217.77 L179.7,217.84 L180.2,217.84 L180.7,218.11 L181.2,217.87 L181.7,218.09 L182.2,218.02 L182.7,218.34 L183.2,218.31 L183.7,218.37 L184.2,218.2 L184.7,217.82 L185.2,217.74 L185.7,217.55 L186.2,217.64 L186.7,217.58 L187.2,217.69 L187.7,217.71 L188.2,217.8 L188.7,217.8 L189.2,217.75 L189.7,217.45 L190.2,217.52 L190.7,217.55 L191.2,217.74 L191.7,217.51 L192.2,217.37 L192.7,217.24 L193.2,217.4 L193.7,217.36 L194.2,217.44 L194.7,217.46 L195.2,217.68 L195.7,217.67 L196.2,217.28 L196.7,217.18 L197.2,217.17 L197.7,217.16 L198.2,216.99 L198.7,216.73 L199.2,216.89 L199.7,216.93 L200.2,216.98 L200.7,217.06 L201.2,216.86 L201.7,216.67 L202.2,216.38 L202.7,216.41 L203.2,216.38 L203.7,216.7 L204.2,216.96 L204.7,216.94 L205.2,216.73 L205.7,216.49 L206.2,216.55 L206.7,216.47 L207.2,216.57 L207.7,216.65 L208.2,216.63 L208.7,216.42 L209.2,216.29 L209.7,216.17 L210.2,216.29 L210.7,216.42 L211.2,216.5 L211.7,216.28 L212.2,216.04 L212.7,216.01 L213.2,216.19 L213.7,216.41 L214.2,216.39 L214.7,216.44 L215.2,216.35 L215.7,216.34 L216.2,216.15 L216.7,216.07 L217.2,216.15 L217.7,216.14 L218.2,216.2 L218.7,216.07 L219.2,215.98 L219.7,215.89 L220.2,215.95 L220.7,215.86 L221.2,215.79 L221.7,215.65 L222.2,215.95 L222.7,216.13 L223.2,216.08 L223.7,216.06 L224.2,215.98 L224.7,215.91 L225.2,215.71 L225.7,215.42 L226.2,215.61 L226.7,215.66 L227.2,215.94 L227.7,215.91 L228.2,215.88 L228.7,215.8 L229.2,215.68 L229.7,215.43 L230.2,215.34 L230.7,215.09 L231.2,215.08 L231.7,215.13 L232.2,215.12 L232.7,215.07 L233.2,214.78 L233.7,215.08 L234.2,215.09 L234.7,215.04 L235.2,214.99 L235.7,214.95 L236.2,215.25 L236.7,215.15 L237.2,215.41 L237.7,215.43 L238.2,215.37 L238.7,215.33 L239.2,214.93 L239.7,214.98 L240.2,214.84 L240.7,215.09 L241.2,214.8 L241.7,214.86 L242.2,214.93 L242.7,214.88 L243.2,214.68 L243.7,214.51 L244.2,214.79 L244.7,214.73 L245.2,214.55 L245.7,214.29 L246.2,214.42 L246.7,214.62 L247.2,214.65 L247.7,214.53 L248.2,214.36 L248.7,214.31 L249.2,214.31 L249.7,214.16 L250.2,214.19 L250.7,214.4 L251.2,214.51 L251.7,214.59 L252.2,214.24 L252.7,214.34 L253.2,214.32 L253.7,214.51 L254.2,214.42 L254.7,214.29 L255.2,214.26 L255.7,214.39 L256.2,214.24 L256.7,214 L257.2,213.92 L257.7,214.21 L258.2,214.36 L258.7,214.22 L259.2,214.12 L259.7,213.97 L260.2,213.88 L260.7,213.65 L261.2,213.8 L261.7,213.8 L262.2,213.79 L262.7,213.81 L263.2,214.05 L263.7,214.06 L264.2,214.04 L264.7,213.81 L265.2,214.01 L265.7,213.94 L266.2,213.87 L266.7,213.59 L267.2,213.35 L267.7,213.42 L268.2,213.46 L268.7,213.5 L269.2,213.44 L269.7,213.39 L270.2,213.62 L270.7,213.51 L271.2,213.76 L271.7,213.62 L272.2,213.78 L272.7,213.56 L273.2,213.68 L273.7,213.75 L274.2,213.77 L274.7,213.61 L275.2,213.55 L275.7,213.65 L276.2,213.6 L276.7,213.58 L277.2,213.6 L277.7,213.61 L278.2,213.39 L278.7,213.08 L279.2,213.16 L279.7,213.32 L280.2,213.59 L280.7,213.63 L281.2,213.44 L281.7,213.11 L282.2,212.85 L282.7,212.81 L283.2,213 L283.7,213.22 L284.2,213.49 L284.7,213.29 L285.2,213.27 L285.7,213.02 L286.2,213.07 L286.7,212.99 L287.2,212.88 L287.7,212.73 L288.2,212.75 L288.7,212.82 L289.2,212.9 L289.7,212.78 L290.2,212.92 L290.7,212.76 L291.2,212.64 L291.7,212.53 L292.2,212.7 L292.7,212.63 L293.2,212.67 L293.7,212.84 L294.2,212.89 L294.7,212.86 L295.2,212.5 L295.7,212.44 L296.2,212.47 L296.7,212.45 L297.2,212.67 L297.7,212.75 L298.2,212.73 L298.7,212.73 L299.2,212.5 L299.7,212.75 L300.2,212.65 L300.7,212.59 L301.2,212.52 L301.7,212.44 L302.2,212.62 L302.7,212.42 L303.2,212.43 L303.7,212.46 L304.2,212.59 L304.7,212.47 L305.2,212.1 L305.7,212 L306.2,211.89 L306.7,212.1 L307.2,212.14 L307.7,212.2 L308.2,211.95 L308.7,211.91 L309.2,211.9 L309.7,211.87 L310.2,211.93 L310.7,211.91 L311.2,211.86 L311.7,211.84 L312.2,211.61 L312.7,211.66 L313.2,211.54 L313.7,211.69 L314.2,211.75 L314.7,211.69 L315.2,211.6 L315.7,211.47 L316.2,211.25 L316.7,211.07 L317.2,211.19 L317.7,211.39 L318.2,211.55 L318.7,211.53 L319.2,211.34 L319.7,211.2 L320.2,211.02 L320.7,211.2 L321.2,211.08 L321.7,211.09 L322.2,210.81 L322.7,211.07 L323.2,210.98 L323.7,210.98 L324.2,210.8 L324.7,210.85 L325.2,210.99 L325.7,210.94 L326.2,211.03 L326.7,210.73 L327.2,210.67 L327.7,210.34 L328.2,210.31 L328.7,210.48 L329.2,210.7 L329.7,210.7 L330.2,210.43 L330.7,210.27 L331.2,210.46 L331.7,210.68 L332.2,210.78 L332.7,210.69 L333.2,210.39 L333.7,210.22 L334.2,210.03 L334.7,210.15 L335.2,210.19 L335.7,210.16 L336.2,210.02 L336.7,210.07 L337.2,209.97 L337.7,210.16 L338.2,210.17 L338.7,210.49 L339.2,210.29 L339.7,210.13 L340.2,209.96 L340.7,210.02 L341.2,210.15 L341.7,210.16 L342.2,210 L342.7,209.92 L343.2,209.82 L343.7,209.9 L344.2,209.82 L344.7,209.61 L345.2,209.64 L345.7,209.58 L346.2,209.73 L346.7,209.61 L347.2,209.5 L347.7,209.36 L348.2,209.33 L348.7,209.15 L349.2,209.23 L349.7,209.24 L350.2,209.35 L350.7,209.34 L351.2,209.42 L351.7,209.55 L352.2,209.36 L352.7,209.27 L353.2,209.15 L353.7,209.09 L354.2,208.91 L354.7,208.74 L355.2,208.72 L355.7,208.75 L356.2,208.96 L356.7,209.01 L357.2,209.09 L357.7,208.98 L358.2,208.88 L358.7,208.84 L359.2,208.78 L359.7,209.01 L360.2,208.93 L360.7,208.95 L361.2,208.74 L361.7,208.74 L362.2,208.77 L362.7,208.92 L363.2,208.77 L363.7,208.69 L364.2,208.54 L364.7,208.41 L365.2,208.16 L365.7,208 L366.2,208.01 L366.7,208.02 L367.2,208.13 L367.7,208.26 L368.2,208.35 L368.7,208.3 L369.2,208.26 L369.7,208.16 L370.2,208.15 L370.7,208.16 L371.2,208.16 L371.7,208.05 L372.2,208.06 L372.7,208.13 L373.2,208.16 L373.7,207.98 L374.2,207.9 L374.7,207.94 L375.2,207.87 L375.7,207.69 L376.2,207.55 L376.7,207.69 L377.2,207.7 L377.7,207.75 L378.2,207.56 L378.7,207.55 L379.2,207.44 L379.7,207.48 L380.2,207.44 L380.7,207.37 L381.2,207.27 L381.7,207.24 L382.2,207.35 L382.7,207.31 L383.2,207.24 L383.7,207.2 L384.2,207.28 L384.7,207.44 L385.2,207.3 L385.7,207.28 L386.2,207.17 L386.7,207.14 L387.2,207.26 L387.7,207.19 L388.2,207.18 L388.7,207.03 L389.2,206.99 L389.7,207.1 L390.2,207.04 L390.7,207.01 L391.2,206.83 L391.7,206.91 L392.2,206.92 L392.7,207.09 L393.2,206.99 L393.7,207.14 L394.2,206.98 L394.7,206.9 L395.2,206.71 L395.7,206.81 L396.2,206.88 L396.7,206.88 L397.2,206.67 L397.7,206.66 L398.2,206.79 L398.7,206.89 L399.2,206.69 L399.7,206.43 L400.2,206.29 L400.7,206.3 L401.2,206.28 L401.7,206.25 L402.2,206.34 L402.7,206.52 L403.2,206.53 L403.7,206.58 L404.2,206.45 L404.7,206.57 L405.2,206.53 L405.7,206.61 L406.2,206.4 L406.7,206.24 L407.2,206.13 L407.7,206.32 L408.2,206.24 L408.7,206.14 L409.2,206.1 L409.7,206.08 L410.2,206.07 L410.7,205.93 L411.2,206.03 L411.7,206.13 L412.2,206.07 L412.7,206.05 L413.2,205.98 L413.7,206.1 L414.2,206.03 L414.7,206.05 L415.2,205.92 L415.7,205.86 L416.2,205.69 L416.7,205.75 L417.2,205.74 L417.7,205.72 L418.2,205.57 L418.7,205.6 L419.2,205.64 L419.7,205.73 L420.2,205.63 L420.7,205.58 L421.2,205.45 L421.7,205.49 L422.2,205.38 L422.7,205.42 L423.2,205.4 L423.7,205.51 L424.2,205.41 L424.7,205.29 L425.2,205.3 L425.7,205.38 L426.2,205.48 L426.7,205.46 L427.2,205.4 L427.7,205.38 L428.2,205.33 L428.7,205.29 L429.2,205.16 L429.7,205.02 L430.2,205.01 L430.7,205.09 L431.2,205.08 L431.7,205.09 L432.2,204.91 L432.7,204.88 L433.2,204.87 L433.7,204.88 L434.2,204.85 L434.7,204.74 L435.2,204.79 L435.7,204.86 L436.2,204.81 L436.7,204.72 L437.2,204.76 L437.7,204.77 L438.2,204.81 L438.7,204.69 L439.2,204.76 L439.7,204.74 L440.2,204.78 L440.7,204.72 L441.2,204.63 L441.7,204.5 L442.2,204.41 L442.7,204.49 L443.2,204.45 L443.7,204.42 L444.2,204.42 L444.7,204.41 L445.2,204.53 L445.7,204.37 L446.2,204.39 L446.7,204.26 L447.2,204.35 L447.7,204.35 L448.2,204.39 L448.7,204.36 L449.2,204.37 L449.7,204.31 L450.2,204.26 L450.7,204.17 L451.2,204.11 L451.7,204.13 L452.2,204.12 L452.7,204.2 L453.2,204.09 L453.7,204.06 L454.2,203.99 L454.7,204.04 L455.2,203.95 L455.7,203.91 L456.2,203.85 L456.7,203.83 L457.2,203.84 L457.7,203.85 L458.2,203.87 L458.7,203.86 L459.2,203.82 L459.7,203.77 L460.2,203.71 L460.7,203.74 L461.2,203.73 L461.7,203.72 L462.2,203.58 L462.7,203.54 L463.2,203.48 L463.7,203.57 L464.2,203.61 L464.7,203.67 L465.2,203.65 L465.7,203.61 L466.2,203.6 L466.7,203.52 L467.2,203.47 L467.7,203.45 L468.2,203.47 L468.7,203.51 L469.2,203.43 L469.7,203.39 L470.2,203.3 L470.7,203.32 L471.2,203.29 L471.7,203.24 L472.2,203.19 L472.7,203.07 L473.2,203.01 L473.7,202.95 L474.2,202.93 L474.7,202.93 L475.2,202.88 L475.7,202.82 L476.2,202.8 L476.7,202.72 L477.2,202.72 L477.7,202.64 L478.2,202.65 L478.7,202.63 L479.2,202.59 L479.7,202.49 L480.2,202.42 L480.7,202.39 L481.2,202.35 L481.7,202.3 L482.2,202.29 L482.7,202.29 L483.2,202.31 L483.7,202.28 L484.2,202.25 L484.7,202.17 L485.2,202.08 L485.7,202 L486.2,201.97 L486.7,201.95 L487.2,201.93 L487.7,201.88 L488.2,201.86 L488.7,201.8 L489.2,201.77 L489.7,201.73 L490.2,201.72 L490.7,201.67 L491.2,201.6 L491.7,201.56 L492.2,201.51 L492.7,201.46 L493.2,201.41 L493.7,201.39 L494.2,201.35 L494.7,201.3 L495.2,201.26 L495.7,201.28 L496.2,201.29 L496.7,201.32 L497.2,201.31 L497.7,201.33 L498.2,201.3 L498.7,201.27 L499.2,201.24 L499.7,201.25 L500.2,201.26 L500.7,201.25 L501.2,201.26 L501.7,201.25 L502.2,201.25 L502.7,201.24 L503.2,201.26 L503.7,201.26 L504.2,201.26 L504.7,201.23 L505.2,201.23 L505.7,201.24 L506.2,201.26 L506.7,201.27 L507.2,201.27 L507.7,201.26 L508.2,201.23 L508.7,201.23 L509.2,201.24 L509.7,201.25 L510.2,201.25 L510.7,201.24 L511.2,201.23 L511.7,201.21 L512.2,201.2 L512.7,201.2 L513.2,201.22 L513.7,201.25 L514.2,201.24 L514.7,201.23 L515.2,201.23 L515.7,201.24 L516.2,201.23 L516.7,201.21 L517.2,201.2 L517.7,201.2 L518.2,201.2 L518.7,201.2 L519.2,201.2 L519.7,201.21 L520.2,201.2 L520.7,201.2 L521.2,201.2 L521.7,201.2 L522.2,201.2 L522.7,201.2 L523.2,201.2 L523.7,201.2 L524.2,201.2 L524.7,201.2 L525.2,201.2 L525.7,201.2 L526.2,201.2 L526.7,201.2 L527.2,201.2 L527.7,201.2 L528.2,201.2 L528.7,201.2 L529.2,201.2 L529.7,201.2 L530.2,201.2 L530.7,201.2 L531.2,201.2 L531.7,201.2 L532.2,201.2 L532.7,201.2 L533.2,201.2 L533.7,201.2 L534.2,201.2 L534.7,201.2 L535.2,201.2 L535.7,201.2 L536.2,201.2 L536.7,201.2 L537.2,201.2 L537.7,201.2 L538.2,201.2 L538.7,201.2 L539.2,201.2 L539.7,201.2 L540.2,201.2 L540.7,201.2 L541,199.9Z" fill="#000" fill-opacity="0.85"/>
<path d="M80.2,199.9 L80.2,260.01 L80.7,260.06 L81.2,260.21 L81.7,260.24 L82.2,260.12 L82.7,259.11 L83.2,257.9 L83.7,256.68 L84.2,255.96 L84.7,257.13 L85.2,258.33 L85.7,259.35 L86.2,259.7 L86.7,257.72 L87.2,254.75 L87.7,251.55 L88.2,250.56 L88.7,250.21 L89.2,249.75 L89.7,249.17 L90.2,248.39 L90.7,247.77 L91.2,247.12 L91.7,246.59 L92.2,245.55 L92.7,244.88 L93.2,245.2 L93.7,245.72 L94.2,244.89 L94.7,244.16 L95.2,243.41 L95.7,242.71 L96.2,242.25 L96.7,241.56 L97.2,241.09 L97.7,240.45 L98.2,239.61 L98.7,238.54 L99.2,237.66 L99.7,237.91 L100.2,237.93 L100.7,238.06 L101.2,238.07 L101.7,238.36 L102.2,238.13 L102.7,236.4 L103.2,234.68 L103.7,233.77 L104.2,234.16 L104.7,234.37 L105.2,234.16 L105.7,233.01 L106.2,232.01 L106.7,230.78 L107.2,229.83 L107.7,229.78 L108.2,229.9 L108.7,229.73 L109.2,228.45 L109.7,227.2 L110.2,225.76 L110.7,225.48 L111.2,225.55 L111.7,225.7 L112.2,225.52 L112.7,225.14 L113.2,224.53 L113.7,223.65 L114.2,222.73 L114.7,222.32 L115.2,220.34 L115.7,220.14 L116.2,220.29 L116.7,220.57 L117.2,220.47 L117.7,220.34 L118.2,219.92 L118.7,220.1 L119.2,219.9 L119.7,220.14 L120.2,220.16 L120.7,220.14 L121.2,220.09 L121.7,219.74 L122.2,219.49 L122.7,219.25 L123.2,219.06 L123.7,219.02 L124.2,218.86 L124.7,219.01 L125.2,218.92 L125.7,218.69 L126.2,218.72 L126.7,218.78 L127.2,219.13 L127.7,219.13 L128.2,219.15 L128.7,218.94 L129.2,218.78 L129.7,218.87 L130.2,218.92 L130.7,218.92 L131.2,218.9 L131.7,219.03 L132.2,219 L132.7,218.91 L133.2,218.81 L133.7,218.69 L134.2,218.63 L134.7,218.72 L135.2,218.83 L135.7,218.92 L136.2,218.52 L136.7,218.47 L137.2,218.47 L137.7,218.46 L138.2,218.53 L138.7,218.54 L139.2,218.55 L139.7,218.54 L140.2,218.46 L140.7,218.7 L141.2,218.58 L141.7,218.67 L142.2,218.68 L142.7,218.54 L143.2,218.27 L143.7,218.23 L144.2,218.6 L144.7,218.66 L145.2,218.55 L145.7,218.37 L146.2,218.36 L146.7,218.28 L147.2,218.13 L147.7,218.11 L148.2,218.17 L148.7,218.12 L149.2,218.09 L149.7,218.12 L150.2,217.98 L150.7,218.01 L151.2,217.96 L151.7,218.04 L152.2,217.86 L152.7,217.85 L153.2,217.78 L153.7,217.73 L154.2,217.55 L154.7,217.69 L155.2,217.62 L155.7,217.54 L156.2,217.35 L156.7,217.61 L157.2,217.62 L157.7,217.79 L158.2,217.48 L158.7,217.4 L159.2,217.28 L159.7,217.53 L160.2,217.54 L160.7,217.33 L161.2,216.99 L161.7,216.98 L162.2,216.93 L162.7,217.17 L163.2,217.25 L163.7,217.21 L164.2,216.96 L164.7,216.91 L165.2,217.06 L165.7,217.23 L166.2,217.01 L166.7,216.76 L167.2,216.52 L167.7,216.66 L168.2,216.68 L168.7,216.66 L169.2,216.47 L169.7,216.5 L170.2,216.49 L170.7,216.66 L171.2,216.53 L171.7,216.34 L172.2,216.33 L172.7,216.59 L173.2,216.96 L173.7,216.73 L174.2,216.73 L174.7,216.68 L175.2,216.57 L175.7,216.46 L176.2,216.4 L176.7,216.55 L177.2,216.43 L177.7,216.18 L178.2,216.03 L178.7,215.89 L179.2,215.77 L179.7,215.84 L180.2,215.84 L180.7,216.11 L181.2,215.87 L181.7,216.09 L182.2,216.02 L182.7,216.34 L183.2,216.31 L183.7,216.37 L184.2,216.2 L184.7,215.82 L185.2,215.74 L185.7,215.55 L186.2,215.64 L186.7,215.58 L187.2,215.69 L187.7,215.71 L188.2,215.8 L188.7,215.8 L189.2,215.75 L189.7,215.45 L190.2,215.52 L190.7,215.55 L191.2,215.74 L191.7,215.51 L192.2,215.37 L192.7,215.24 L193.2,215.4 L193.7,215.36 L194.2,215.44 L194.7,215.46 L195.2,215.68 L195.7,215.67 L196.2,215.28 L196.7,215.18 L197.2,215.17 L197.7,215.16 L198.2,214.99 L198.7,214.73 L199.2,214.89 L199.7,214.93 L200.2,214.98 L200.7,215.06 L201.2,214.86 L201.7,214.67 L202.2,214.38 L202.7,214.41 L203.2,214.38 L203.7,214.7 L204.2,214.96 L204.7,214.94 L205.2,214.73 L205.7,214.49 L206.2,214.55 L206.7,214.47 L207.2,214.57 L207.7,214.65 L208.2,214.63 L208.7,214.42 L209.2,214.29 L209.7,214.17 L210.2,214.29 L210.7,214.42 L211.2,214.5 L211.7,214.28 L212.2,214.04 L212.7,214.01 L213.2,214.19 L213.7,214.41 L214.2,214.39 L214.7,214.44 L215.2,214.35 L215.7,214.34 L216.2,214.15 L216.7,214.07 L217.2,214.15 L217.7,214.14 L218.2,214.2 L218.7,214.07 L219.2,213.98 L219.7,213.89 L220.2,213.95 L220.7,213.86 L221.2,213.79 L221.7,213.65 L222.2,213.95 L222.7,214.13 L223.2,214.08 L223.7,214.06 L224.2,213.98 L224.7,213.91 L225.2,213.71 L225.7,213.42 L226.2,213.61 L226.7,213.66 L227.2,213.94 L227.7,213.91 L228.2,213.88 L228.7,213.8 L229.2,213.68 L229.7,213.43 L230.2,213.34 L230.7,213.09 L231.2,213.08 L231.7,213.13 L232.2,213.12 L232.7,213.07 L233.2,212.78 L233.7,213.08 L234.2,213.09 L234.7,213.04 L235.2,212.99 L235.7,212.95 L236.2,213.25 L236.7,213.15 L237.2,213.41 L237.7,213.43 L238.2,213.37 L238.7,213.33 L239.2,212.93 L239.7,212.98 L240.2,212.84 L240.7,213.09 L241.2,212.8 L241.7,212.86 L242.2,212.93 L242.7,212.88 L243.2,212.68 L243.7,212.51 L244.2,212.79 L244.7,212.73 L245.2,212.55 L245.7,212.29 L246.2,212.42 L246.7,212.62 L247.2,212.65 L247.7,212.53 L248.2,212.36 L248.7,212.31 L249.2,212.31 L249.7,212.16 L250.2,212.19 L250.7,212.4 L251.2,212.51 L251.7,212.59 L252.2,212.24 L252.7,212.34 L253.2,212.32 L253.7,212.51 L254.2,212.42 L254.7,212.29 L255.2,212.26 L255.7,212.39 L256.2,212.24 L256.7,212 L257.2,211.92 L257.7,212.21 L258.2,212.36 L258.7,212.22 L259.2,212.12 L259.7,211.97 L260.2,211.88 L260.7,211.65 L261.2,211.8 L261.7,211.8 L262.2,211.79 L262.7,211.81 L263.2,212.05 L263.7,212.06 L264.2,212.04 L264.7,211.81 L265.2,212.01 L265.7,211.94 L266.2,211.87 L266.7,211.59 L267.2,211.35 L267.7,211.42 L268.2,211.46 L268.7,211.5 L269.2,211.44 L269.7,211.39 L270.2,211.62 L270.7,211.51 L271.2,211.76 L271.7,211.62 L272.2,211.78 L272.7,211.56 L273.2,211.68 L273.7,211.75 L274.2,211.77 L274.7,211.61 L275.2,211.55 L275.7,211.65 L276.2,211.6 L276.7,211.58 L277.2,211.6 L277.7,211.61 L278.2,211.39 L278.7,211.08 L279.2,211.16 L279.7,211.32 L280.2,211.59 L280.7,211.63 L281.2,211.44 L281.7,211.11 L282.2,210.85 L282.7,210.81 L283.2,211 L283.7,211.22 L284.2,211.49 L284.7,211.29 L285.2,211.27 L285.7,211.02 L286.2,211.07 L286.7,210.99 L287.2,210.88 L287.7,210.73 L288.2,210.75 L288.7,210.82 L289.2,210.9 L289.7,210.78 L290.2,210.92 L290.7,210.76 L291.2,210.64 L291.7,210.53 L292.2,210.7 L292.7,210.63 L293.2,210.67 L293.7,210.84 L294.2,210.89 L294.7,210.86 L295.2,210.5 L295.7,210.44 L296.2,210.47 L296.7,210.45 L297.2,210.67 L297.7,210.75 L298.2,210.73 L298.7,210.73 L299.2,210.5 L299.7,210.75 L300.2,210.65 L300.7,210.59 L301.2,210.52 L301.7,210.44 L302.2,210.62 L302.7,210.42 L303.2,210.43 L303.7,210.46 L304.2,210.59 L304.7,210.47 L305.2,210.1 L305.7,210 L306.2,209.89 L306.7,210.1 L307.2,210.14 L307.7,210.2 L308.2,209.95 L308.7,209.91 L309.2,209.9 L309.7,209.87 L310.2,209.93 L310.7,209.91 L311.2,209.86 L311.7,209.84 L312.2,209.61 L312.7,209.66 L313.2,209.54 L313.7,209.69 L314.2,209.75 L314.7,209.69 L315.2,209.6 L315.7,209.47 L316.2,209.25 L316.7,209.07 L317.2,209.19 L317.7,209.39 L318.2,209.55 L318.7,209.53 L319.2,209.34 L319.7,209.2 L320.2,209.02 L320.7,209.2 L321.2,209.08 L321.7,209.09 L322.2,208.81 L322.7,209.07 L323.2,208.98 L323.7,208.98 L324.2,208.8 L324.7,208.85 L325.2,208.99 L325.7,208.94 L326.2,209.03 L326.7,208.73 L327.2,208.67 L327.7,208.34 L328.2,208.31 L328.7,208.48 L329.2,208.7 L329.7,208.7 L330.2,208.43 L330.7,208.27 L331.2,208.46 L331.7,208.68 L332.2,208.78 L332.7,208.69 L333.2,208.39 L333.7,208.22 L334.2,208.03 L334.7,208.15 L335.2,208.19 L335.7,208.16 L336.2,208.02 L336.7,208.07 L337.2,207.97 L337.7,208.16 L338.2,208.17 L338.7,208.49 L339.2,208.29 L339.7,208.13 L340.2,207.96 L340.7,208.02 L341.2,208.15 L341.7,208.16 L342.2,208 L342.7,207.92 L343.2,207.82 L343.7,207.9 L344.2,207.82 L344.7,207.61 L345.2,207.64 L345.7,207.58 L346.2,207.73 L346.7,207.61 L347.2,207.5 L347.7,207.36 L348.2,207.33 L348.7,207.15 L349.2,207.23 L349.7,207.24 L350.2,207.35 L350.7,207.34 L351.2,207.42 L351.7,207.55 L352.2,207.36 L352.7,207.27 L353.2,207.15 L353.7,207.09 L354.2,206.91 L354.7,206.74 L355.2,206.72 L355.7,206.75 L356.2,206.96 L356.7,207.01 L357.2,207.09 L357.7,206.98 L358.2,206.88 L358.7,206.84 L359.2,206.78 L359.7,207.01 L360.2,206.93 L360.7,206.95 L361.2,206.74 L361.7,206.74 L362.2,206.77 L362.7,206.92 L363.2,206.77 L363.7,206.69 L364.2,206.54 L364.7,206.42 L365.2,206.17 L365.7,206.03 L366.2,206.04 L366.7,206.06 L367.2,206.17 L367.7,206.31 L368.2,206.4 L368.7,206.36 L369.2,206.33 L369.7,206.24 L370.2,206.23 L370.7,206.24 L371.2,206.25 L371.7,206.15 L372.2,206.17 L372.7,206.25 L373.2,206.28 L373.7,206.11 L374.2,206.03 L374.7,206.08 L375.2,206.02 L375.7,205.84 L376.2,205.71 L376.7,205.85 L377.2,205.88 L377.7,205.93 L378.2,205.74 L378.7,205.74 L379.2,205.64 L379.7,205.68 L380.2,205.65 L380.7,205.59 L381.2,205.49 L381.7,205.47 L382.2,205.58 L382.7,205.55 L383.2,205.49 L383.7,205.46 L384.2,205.54 L384.7,205.71 L385.2,205.58 L385.7,205.56 L386.2,205.46 L386.7,205.43 L387.2,205.57 L387.7,205.5 L388.2,205.5 L388.7,205.35 L389.2,205.31 L389.7,205.44 L390.2,205.38 L390.7,205.35 L391.2,205.18 L391.7,205.27 L392.2,205.29 L392.7,205.46 L393.2,205.37 L393.7,205.52 L394.2,205.38 L394.7,205.3 L395.2,205.11 L395.7,205.22 L396.2,205.3 L396.7,205.3 L397.2,205.1 L397.7,205.09 L398.2,205.23 L398.7,205.33 L399.2,205.15 L399.7,204.9 L400.2,204.76 L400.7,204.78 L401.2,204.76 L401.7,204.73 L402.2,204.83 L402.7,205.02 L403.2,205.04 L403.7,205.09 L404.2,204.97 L404.7,205.1 L405.2,205.06 L405.7,205.15 L406.2,204.95 L406.7,204.79 L407.2,204.69 L407.7,204.88 L408.2,204.81 L408.7,204.72 L409.2,204.68 L409.7,204.67 L410.2,204.67 L410.7,204.54 L411.2,204.64 L411.7,204.74 L412.2,204.69 L412.7,204.68 L413.2,204.62 L413.7,204.74 L414.2,204.68 L414.7,204.71 L415.2,204.58 L415.7,204.53 L416.2,204.37 L416.7,204.44 L417.2,204.43 L417.7,204.42 L418.2,204.27 L418.7,204.31 L419.2,204.36 L419.7,204.45 L420.2,204.36 L420.7,204.32 L421.2,204.19 L421.7,204.24 L422.2,204.13 L422.7,204.17 L423.2,204.16 L423.7,204.28 L424.2,204.19 L424.7,204.07 L425.2,204.08 L425.7,204.17 L426.2,204.28 L426.7,204.27 L427.2,204.21 L427.7,204.2 L428.2,204.15 L428.7,204.11 L429.2,204 L429.7,203.86 L430.2,203.85 L430.7,203.94 L431.2,203.93 L431.7,203.94 L432.2,203.77 L432.7,203.75 L433.2,203.75 L433.7,203.76 L434.2,203.74 L434.7,203.63 L435.2,203.69 L435.7,203.76 L436.2,203.72 L436.7,203.63 L437.2,203.68 L437.7,203.7 L438.2,203.74 L438.7,203.63 L439.2,203.71 L439.7,203.7 L440.2,203.74 L440.7,203.68 L441.2,203.6 L441.7,203.48 L442.2,203.39 L442.7,203.47 L443.2,203.45 L443.7,203.42 L444.2,203.43 L444.7,203.42 L445.2,203.54 L445.7,203.39 L446.2,203.41 L446.7,203.29 L447.2,203.39 L447.7,203.4 L448.2,203.44 L448.7,203.41 L449.2,203.43 L449.7,203.37 L450.2,203.33 L450.7,203.25 L451.2,203.2 L451.7,203.22 L452.2,203.22 L452.7,203.3 L453.2,203.2 L453.7,203.17 L454.2,203.1 L454.7,203.16 L455.2,203.08 L455.7,203.05 L456.2,202.99 L456.7,202.98 L457.2,202.99 L457.7,203.01 L458.2,203.04 L458.7,203.03 L459.2,203 L459.7,202.95 L460.2,202.9 L460.7,202.93 L461.2,202.93 L461.7,202.92 L462.2,202.79 L462.7,202.76 L463.2,202.71 L463.7,202.79 L464.2,202.84 L464.7,202.91 L465.2,202.9 L465.7,202.87 L466.2,202.85 L466.7,202.78 L467.2,202.74 L467.7,202.73 L468.2,202.75 L468.7,202.79 L469.2,202.72 L469.7,202.69 L470.2,202.61 L470.7,202.63 L471.2,202.62 L471.7,202.57 L472.2,202.54 L472.7,202.43 L473.2,202.38 L473.7,202.33 L474.2,202.31 L474.7,202.32 L475.2,202.28 L475.7,202.23 L476.2,202.22 L476.7,202.16 L477.2,202.16 L477.7,202.1 L478.2,202.11 L478.7,202.11 L479.2,202.07 L479.7,201.99 L480.2,201.92 L480.7,201.9 L481.2,201.87 L481.7,201.83 L482.2,201.83 L482.7,201.85 L483.2,201.87 L483.7,201.86 L484.2,201.84 L484.7,201.77 L485.2,201.68 L485.7,201.62 L486.2,201.59 L486.7,201.59 L487.2,201.57 L487.7,201.53 L488.2,201.52 L488.7,201.48 L489.2,201.45 L489.7,201.42 L490.2,201.42 L490.7,201.38 L491.2,201.32 L491.7,201.29 L492.2,201.25 L492.7,201.22 L493.2,201.2 L493.7,201.2 L494.2,201.2 L494.7,201.2 L495.2,201.2 L495.7,201.2 L496.2,201.2 L496.7,201.2 L497.2,201.2 L497.7,201.2 L498.2,201.2 L498.7,201.2 L499.2,201.2 L499.7,201.2 L500.2,201.2 L500.7,201.2 L501.2,201.2 L501.7,201.2 L502.2,201.2 L502.7,201.2 L503.2,201.2 L503.7,201.2 L504.2,201.2 L504.7,201.2 L505.2,201.2 L505.7,201.2 L506.2,201.2 L506.7,201.2 L507.2,201.2 L507.7,201.2 L508.2,201.2 L508.7,201.2 L509.2,201.2 L509.7,201.2 L510.2,201.2 L510.7,201.2 L511.2,201.2 L511.7,201.2 L512.2,201.2 L512.7,201.2 L513.2,201.2 L513.7,201.2 L514.2,201.2 L514.7,201.2 L515.2,201.2 L515.7,201.2 L516.2,201.2 L516.7,201.2 L517.2,201.2 L517.7,201.2 L518.2,201.2 L518.7,201.2 L519.2,201.2 L519.7,201.2 L520.2,201.2 L520.7,201.2 L521.2,201.2 L521.7,201.2 L522.2,201.2 L522.7,201.2 L523.2,201.2 L523.7,201.2 L524.2,201.2 L524.7,201.2 L525.2,201.2 L525.7,201.2 L526.2,201.2 L526.7,201.2 L527.2,201.2 L527.7,201.2 L528.2,201.2 L528.7,201.2 L529.2,201.2 L529.7,201.2 L530.2,201.2 L530.7,201.2 L531.2,201.2 L531.7,201.2 L532.2,201.2 L532.7,201.2 L533.2,201.2 L533.7,201.2 L534.2,201.2 L534.7,201.2 L535.2,201.2 L535.7,201.2 L536.2,201.2 L536.7,201.2 L537.2,201.2 L537.7,201.2 L538.2,201.2 L538.7,201.2 L539.2,201.2 L539.7,201.2 L540.2,201.2 L540.7,201.2 L541,199.9Z" fill="#000"/>
<line x1="156.7" y1="137.4" x2="156.7" y2="262.5" stroke="#c8c8c8" stroke-opacity="0.26" stroke-width="1"/>
<line x1="233.6" y1="137.4" x2="233.6" y2="262.5" stroke="#c8c8c8" stroke-opacity="0.26" stroke-width="1"/>
<line x1="310.5" y1="137.4" x2="310.5" y2="262.5" stroke="#c8c8c8" stroke-opacity="0.26" stroke-width="1"/>
<line x1="387.4" y1="137.4" x2="387.4" y2="262.5" stroke="#c8c8c8" stroke-opacity="0.26" stroke-width="1"/>
<line x1="464.3" y1="137.4" x2="464.3" y2="262.5" stroke="#c8c8c8" stroke-opacity="0.26" stroke-width="1"/>
<line x1="79.8" y1="243.55" x2="541.2" y2="243.55" stroke="#c8c8c8" stroke-opacity="0.26" stroke-width="1"/>
<line x1="79.8" y1="221.72" x2="541.2" y2="221.72" stroke="#c8c8c8" stroke-opacity="0.26" stroke-width="1"/>
<line x1="79.8" y1="178.08" x2="541.2" y2="178.08" stroke="#c8c8c8" stroke-opacity="0.26" stroke-width="1"/>
<line x1="79.8" y1="156.25" x2="541.2" y2="156.25" stroke="#c8c8c8" stroke-opacity="0.26" stroke-width="1"/>
<path d="M80.2,195.69 L80.7,195.54 L81.2,195.36 L81.7,195.18 L82.2,195 L82.7,194.85 L83.2,194.7 L83.7,194.55 L84.2,194.37 L84.7,194.19 L85.2,194.01 L85.7,193.87 L86.2,193.73 L86.7,193.6 L87.2,193.46 L87.7,193.31 L88.2,193.17 L88.7,193.06 L89.2,192.95 L89.7,192.84 L90.2,192.39 L90.7,191.86 L91.2,191.33 L91.7,190.86 L92.2,190.82 L92.7,190.77 L93.2,190.77 L93.7,190.77 L94.2,190.4 L94.7,189.83 L95.2,189.26 L95.7,188.7 L96.2,188.52 L96.7,188.35 L97.2,188.18 L97.7,187.8 L98.2,187.43 L98.7,187.05 L99.2,186.88 L99.7,186.7 L100.2,186.27 L100.7,185.87 L101.2,185.47 L101.7,185.08 L102.2,184.64 L102.7,184.43 L103.2,184.23 L103.7,184.14 L104.2,184.05 L104.7,183.95 L105.2,183.75 L105.7,183.29 L106.2,182.77 L106.7,182.18 L107.2,181.59 L107.7,181.3 L108.2,181.54 L108.7,181.77 L109.2,182.01 L109.7,182.35 L110.2,182.73 L110.7,183.11 L111.2,183.43 L111.7,183.58 L112.2,183.08 L112.7,182.4 L113.2,181.71 L113.7,181.03 L114.2,180.53 L114.7,180.33 L115.2,180.33 L115.7,180.41 L116.2,180.5 L116.7,180.58 L117.2,180.58 L117.7,180.58 L118.2,180.61 L118.7,180.62 L119.2,180.64 L119.7,180.66 L120.2,180.73 L120.7,180.8 L121.2,180.87 L121.7,181.01 L122.2,181.19 L122.7,181.36 L123.2,181.47 L123.7,181.37 L124.2,180.96 L124.7,180.56 L125.2,180.16 L125.7,179.76 L126.2,179.35 L126.7,179.48 L127.2,179.6 L127.7,179.6 L128.2,179.59 L128.7,179.58 L129.2,179.71 L129.7,179.83 L130.2,179.96 L130.7,180.13 L131.2,180.3 L131.7,180.22 L132.2,179.91 L132.7,179.6 L133.2,179.29 L133.7,179 L134.2,178.81 L134.7,178.79 L135.2,178.75 L135.7,178.7 L136.2,178.66 L136.7,178.77 L137.2,178.88 L137.7,178.98 L138.2,178.94 L138.7,178.9 L139.2,178.86 L139.7,178.78 L140.2,178.72 L140.7,178.68 L141.2,178.67 L141.7,178.67 L142.2,178.66 L142.7,178.52 L143.2,178.37 L143.7,178.22 L144.2,178.22 L144.7,178.21 L145.2,178.21 L145.7,178.35 L146.2,178.5 L146.7,178.64 L147.2,178.64 L147.7,178.63 L148.2,178.63 L148.7,178.47 L149.2,178.31 L149.7,178.15 L150.2,178.26 L150.7,178.53 L151.2,178.81 L151.7,179.19 L152.2,179.7 L152.7,180.38 L153.2,180.94 L153.7,181.15 L154.2,180.81 L154.7,180.35 L155.2,179.9 L155.7,179.44 L156.2,179.19 L156.7,179.08 L157.2,178.97 L157.7,178.83 L158.2,178.69 L158.7,178.54 L159.2,178.43 L159.7,178.32 L160.2,178.28 L160.7,178.57 L161.2,178.85 L161.7,179.13 L162.2,179.21 L162.7,179.29 L163.2,179.37 L163.7,179.3 L164.2,179.22 L164.7,179.15 L165.2,179.2 L165.7,179.2 L166.2,179.21 L166.7,179.21 L167.2,179.22 L167.7,179.22 L168.2,179.23 L168.7,179.23 L169.2,179.23 L169.7,179.42 L170.2,179.6 L170.7,179.78 L171.2,179.79 L171.7,179.79 L172.2,179.8 L172.7,179.77 L173.2,179.75 L173.7,179.73 L174.2,179.73 L174.7,179.74 L175.2,179.74 L175.7,179.61 L176.2,179.48 L176.7,179.35 L177.2,179.35 L177.7,179.35 L178.2,179.36 L178.7,179.52 L179.2,179.68 L179.7,179.84 L180.2,179.84 L180.7,179.85 L181.2,179.85 L181.7,179.76 L182.2,179.66 L182.7,179.57 L183.2,179.57 L183.7,179.58 L184.2,179.58 L184.7,179.62 L185.2,179.65 L185.7,179.69 L186.2,179.69 L186.7,179.7 L187.2,179.7 L187.7,179.6 L188.2,179.49 L188.7,179.38 L189.2,179.39 L189.7,179.39 L190.2,179.43 L190.7,179.71 L191.2,179.98 L191.7,180.25 L192.2,180.35 L192.7,180.45 L193.2,180.55 L193.7,180.59 L194.2,180.63 L194.7,180.67 L195.2,180.8 L195.7,180.96 L196.2,181.12 L196.7,181.34 L197.2,181.57 L197.7,181.79 L198.2,181.95 L198.7,182.11 L199.2,182.27 L199.7,182.41 L200.2,182.43 L200.7,182.24 L201.2,182.08 L201.7,181.91 L202.2,181.74 L202.7,181.44 L203.2,181.3 L203.7,181.41 L204.2,181.66 L204.7,181.91 L205.2,182.16 L205.7,182.42 L206.2,182.69 L206.7,182.95 L207.2,183.02 L207.7,182.82 L208.2,182.62 L208.7,182.38 L209.2,182.13 L209.7,181.89 L210.2,181.77 L210.7,181.77 L211.2,181.77 L211.7,181.76 L212.2,181.76 L212.7,181.75 L213.2,181.75 L213.7,181.75 L214.2,181.75 L214.7,181.73 L215.2,181.71 L215.7,181.7 L216.2,181.7 L216.7,181.7 L217.2,181.7 L217.7,181.75 L218.2,181.81 L218.7,181.86 L219.2,181.86 L219.7,181.86 L220.2,181.86 L220.7,181.93 L221.2,182 L221.7,182.07 L222.2,182.07 L222.7,182.07 L223.2,182.07 L223.7,181.93 L224.2,181.79 L224.7,181.65 L225.2,181.65 L225.7,181.65 L226.2,181.65 L226.7,181.81 L227.2,181.97 L227.7,182.12 L228.2,182.12 L228.7,182.12 L229.2,182.12 L229.7,182.05 L230.2,181.97 L230.7,181.89 L231.2,181.89 L231.7,181.89 L232.2,181.89 L232.7,181.88 L233.2,181.87 L233.7,181.87 L234.2,181.87 L234.7,181.87 L235.2,181.97 L235.7,182.34 L236.2,182.7 L236.7,183.07 L237.2,183.32 L237.7,183.57 L238.2,183.67 L238.7,183.48 L239.2,183.28 L239.7,183.08 L240.2,182.96 L240.7,182.84 L241.2,182.72 L241.7,182.56 L242.2,182.4 L242.7,182.24 L243.2,182.13 L243.7,182.01 L244.2,181.9 L244.7,181.83 L245.2,181.75 L245.7,181.68 L246.2,181.57 L246.7,181.45 L247.2,181.51 L247.7,181.86 L248.2,182.21 L248.7,182.56 L249.2,182.86 L249.7,183.16 L250.2,183.35 L250.7,183.21 L251.2,183.07 L251.7,182.93 L252.2,182.94 L252.7,182.96 L253.2,182.97 L253.7,183.2 L254.2,183.42 L254.7,183.65 L255.2,183.66 L255.7,183.68 L256.2,183.69 L256.7,183.48 L257.2,183.27 L257.7,183.06 L258.2,183.07 L258.7,183.08 L259.2,183.1 L259.7,183.28 L260.2,183.46 L260.7,183.64 L261.2,183.65 L261.7,183.67 L262.2,183.67 L262.7,183.67 L263.2,183.67 L263.7,183.68 L264.2,183.66 L264.7,183.64 L265.2,183.62 L265.7,183.41 L266.2,183.2 L266.7,182.99 L267.2,182.97 L267.7,182.95 L268.2,182.93 L268.7,183.09 L269.2,183.25 L269.7,183.41 L270.2,183.42 L270.7,183.46 L271.2,183.51 L271.7,183.46 L272.2,183.4 L272.7,183.35 L273.2,183.39 L273.7,183.44 L274.2,183.48 L274.7,183.58 L275.2,183.67 L275.7,183.77 L276.2,183.81 L276.7,183.86 L277.2,183.9 L277.7,183.82 L278.2,183.73 L278.7,183.64 L279.2,183.68 L279.7,183.73 L280.2,183.77 L280.7,183.83 L281.2,183.88 L281.7,183.94 L282.2,183.98 L282.7,184.03 L283.2,184.07 L283.7,184.15 L284.2,184.22 L284.7,184.3 L285.2,184.34 L285.7,184.39 L286.2,184.43 L286.7,184.66 L287.2,184.89 L287.7,185.11 L288.2,185.16 L288.7,185.2 L289.2,185.25 L289.7,185.11 L290.2,184.97 L290.7,184.82 L291.2,184.84 L291.7,184.86 L292.2,184.88 L292.7,185.03 L293.2,185.18 L293.7,185.33 L294.2,185.35 L294.7,185.37 L295.2,185.39 L295.7,185.45 L296.2,185.51 L296.7,185.57 L297.2,185.59 L297.7,185.61 L298.2,185.63 L298.7,185.65 L299.2,185.67 L299.7,185.7 L300.2,185.72 L300.7,185.74 L301.2,185.77 L301.7,185.65 L302.2,185.54 L302.7,185.43 L303.2,185.45 L303.7,185.48 L304.2,185.5 L304.7,185.53 L305.2,185.56 L305.7,185.58 L306.2,185.61 L306.7,185.63 L307.2,185.66 L307.7,185.72 L308.2,185.79 L308.7,185.85 L309.2,185.88 L309.7,185.9 L310.2,185.94 L310.7,186.05 L311.2,186.15 L311.7,186.26 L312.2,186.31 L312.7,186.36 L313.2,186.41 L313.7,186.31 L314.2,186.2 L314.7,186.1 L315.2,186.15 L315.7,186.2 L316.2,186.25 L316.7,186.45 L317.2,186.64 L317.7,186.84 L318.2,186.89 L318.7,186.94 L319.2,186.99 L319.7,187.06 L320.2,187.11 L320.7,187.17 L321.2,187.21 L321.7,187.26 L322.2,187.3 L322.7,187.36 L323.2,187.42 L323.7,187.48 L324.2,187.53 L324.7,187.57 L325.2,187.61 L325.7,187.47 L326.2,187.32 L326.7,187.17 L327.2,187.22 L327.7,187.26 L328.2,187.3 L328.7,187.56 L329.2,187.82 L329.7,188.07 L330.2,188.12 L330.7,188.16 L331.2,188.21 L331.7,188.05 L332.2,187.9 L332.7,187.74 L333.2,187.79 L333.7,187.83 L334.2,187.88 L334.7,187.98 L335.2,188.08 L335.7,188.18 L336.2,188.23 L336.7,188.27 L337.2,188.32 L337.7,188.42 L338.2,188.51 L338.7,188.57 L339.2,188.57 L339.7,188.57 L340.2,188.56 L340.7,188.63 L341.2,188.7 L341.7,188.77 L342.2,188.76 L342.7,188.76 L343.2,188.76 L343.7,188.62 L344.2,188.48 L344.7,188.34 L345.2,188.34 L345.7,188.33 L346.2,188.33 L346.7,188.46 L347.2,188.59 L347.7,188.73 L348.2,188.72 L348.7,188.72 L349.2,188.72 L349.7,188.62 L350.2,188.53 L350.7,188.44 L351.2,188.44 L351.7,188.43 L352.2,188.51 L352.7,188.66 L353.2,188.8 L353.7,188.95 L354.2,189.15 L354.7,189.35 L355.2,189.44 L355.7,189.39 L356.2,189.33 L356.7,189.27 L357.2,189.21 L357.7,189.15 L358.2,189.09 L358.7,189 L359.2,188.9 L359.7,188.81 L360.2,188.79 L360.7,188.82 L361.2,188.85 L361.7,188.85 L362.2,188.86 L362.7,188.87 L363.2,188.9 L363.7,188.93 L364.2,188.96 L364.7,189 L365.2,189.05 L365.7,189.1 L366.2,189.13 L366.7,189.16 L367.2,189.19 L367.7,189.34 L368.2,189.5 L368.7,189.65 L369.2,189.68 L369.7,189.71 L370.2,189.74 L370.7,189.85 L371.2,189.95 L371.7,190.05 L372.2,190.08 L372.7,190.11 L373.2,190.14 L373.7,189.97 L374.2,189.81 L374.7,189.65 L375.2,189.68 L375.7,189.71 L376.2,189.74 L376.7,189.74 L377.2,189.74 L377.7,189.75 L378.2,189.78 L378.7,189.81 L379.2,189.84 L379.7,190.08 L380.2,190.33 L380.7,190.58 L381.2,190.61 L381.7,190.64 L382.2,190.67 L382.7,190.6 L383.2,190.52 L383.7,190.45 L384.2,190.48 L384.7,190.51 L385.2,190.54 L385.7,190.54 L386.2,190.54 L386.7,190.54 L387.2,190.57 L387.7,190.6 L388.2,190.63 L388.7,190.62 L389.2,190.61 L389.7,190.6 L390.2,190.62 L390.7,190.64 L391.2,190.65 L391.7,190.75 L392.2,190.85 L392.7,190.95 L393.2,190.96 L393.7,190.98 L394.2,190.99 L394.7,191.06 L395.2,191.13 L395.7,191.2 L396.2,191.21 L396.7,191.23 L397.2,191.24 L397.7,191.17 L398.2,191.1 L398.7,191.03 L399.2,191.04 L399.7,191.06 L400.2,191.07 L400.7,191.08 L401.2,191.09 L401.7,191.1 L402.2,191.11 L402.7,191.13 L403.2,191.14 L403.7,191.07 L404.2,191 L404.7,190.93 L405.2,190.94 L405.7,190.96 L406.2,190.97 L406.7,191.19 L407.2,191.41 L407.7,191.62 L408.2,191.64 L408.7,191.65 L409.2,191.67 L409.7,191.48 L410.2,191.36 L410.7,191.35 L411.2,191.55 L411.7,191.75 L412.2,191.95 L412.7,192.26 L413.2,192.43 L413.7,192.41 L414.2,192.28 L414.7,192.14 L415.2,192.01 L415.7,191.96 L416.2,191.97 L416.7,192.07 L417.2,192.09 L417.7,192.11 L418.2,192.14 L418.7,191.99 L419.2,191.85 L419.7,191.71 L420.2,191.73 L420.7,191.75 L421.2,191.77 L421.7,191.94 L422.2,192.1 L422.7,192.26 L423.2,192.28 L423.7,192.31 L424.2,192.33 L424.7,192.4 L425.2,192.48 L425.7,192.55 L426.2,192.57 L426.7,192.59 L427.2,192.62 L427.7,192.56 L428.2,192.51 L428.7,192.46 L429.2,192.48 L429.7,192.51 L430.2,192.53 L430.7,192.59 L431.2,192.65 L431.7,192.71 L432.2,192.73 L432.7,192.75 L433.2,192.77 L433.7,192.64 L434.2,192.5 L434.7,192.36 L435.2,192.39 L435.7,192.41 L436.2,192.43 L436.7,192.53 L437.2,192.63 L437.7,192.73 L438.2,192.75 L438.7,192.77 L439.2,192.79 L439.7,192.75 L440.2,192.71 L440.7,192.66 L441.2,192.68 L441.7,192.71 L442.2,192.73 L442.7,192.91 L443.2,193.1 L443.7,193.28 L444.2,193.31 L444.7,193.33 L445.2,193.35 L445.7,193.24 L446.2,193.13 L446.7,193.02 L447.2,193.04 L447.7,193.05 L448.2,193.07 L448.7,193.13 L449.2,193.18 L449.7,193.24 L450.2,193.25 L450.7,193.27 L451.2,193.29 L451.7,193.44 L452.2,193.58 L452.7,193.73 L453.2,193.74 L453.7,193.76 L454.2,193.78 L454.7,193.76 L455.2,193.75 L455.7,193.73 L456.2,193.75 L456.7,193.77 L457.2,193.79 L457.7,193.83 L458.2,193.88 L458.7,193.93 L459.2,193.94 L459.7,193.96 L460.2,193.98 L460.7,193.88 L461.2,193.77 L461.7,193.67 L462.2,193.69 L462.7,193.7 L463.2,193.72 L463.7,193.75 L464.2,193.77 L464.7,193.8 L465.2,193.82 L465.7,193.84 L466.2,193.85 L466.7,193.93 L467.2,194 L467.7,194.08 L468.2,194.1 L468.7,194.11 L469.2,194.13 L469.7,194.09 L470.2,194.12 L470.7,194.24 L471.2,194.43 L471.7,194.61 L472.2,194.79 L472.7,194.93 L473.2,194.94 L473.7,194.77 L474.2,194.63 L474.7,194.5 L475.2,194.37 L475.7,194.26 L476.2,194.22 L476.7,194.27 L477.2,194.29 L477.7,194.32 L478.2,194.34 L478.7,194.31 L479.2,194.27 L479.7,194.24 L480.2,194.26 L480.7,194.29 L481.2,194.31 L481.7,194.39 L482.2,194.47 L482.7,194.55 L483.2,194.57 L483.7,194.6 L484.2,194.62 L484.7,194.79 L485.2,194.96 L485.7,195.13 L486.2,195.15 L486.7,195.18 L487.2,195.2 L487.7,195.22 L488.2,195.24 L488.7,195.26 L489.2,195.28 L489.7,195.31 L490.2,195.33 L490.7,195.27 L491.2,195.21 L491.7,195.16 L492.2,195.18 L492.7,195.19 L493.2,195.21 L493.7,195.2 L494.2,195.19 L494.7,195.18 L495.2,195.2 L495.7,195.22 L496.2,195.24 L496.7,195.22 L497.2,195.21 L497.7,195.19 L498.2,195.21 L498.7,195.23 L499.2,195.25 L499.7,195.21 L500.2,195.17 L500.7,195.13 L501.2,195.15 L501.7,195.17 L502.2,195.19 L502.7,195.25 L503.2,195.32 L503.7,195.38 L504.2,195.4 L504.7,195.42 L505.2,195.44 L505.7,195.58 L506.2,195.71 L506.7,195.85 L507.2,195.87 L507.7,195.89 L508.2,195.91 L508.7,195.95 L509.2,195.99 L509.7,196.03 L510.2,196.05 L510.7,196.07 L511.2,196.09 L511.7,195.99 L512.2,195.89 L512.7,195.79 L513.2,195.81 L513.7,195.83 L514.2,195.85 L514.7,195.97 L515.2,196.09 L515.7,196.21 L516.2,196.23 L516.7,196.25 L517.2,196.27 L517.7,196.28 L518.2,196.3 L518.7,196.32 L519.2,196.34 L519.7,196.36 L520.2,196.38 L520.7,196.38 L521.2,196.38 L521.7,196.38 L522.2,196.4 L522.7,196.42 L523.2,196.44 L523.7,196.45 L524.2,196.46 L524.7,196.48 L525.2,196.5 L525.7,196.51 L526.2,196.53 L526.7,196.58 L527.2,196.62 L527.7,196.66 L528.2,196.68 L528.7,196.7 L529.2,196.72 L529.7,196.65 L530.2,196.57 L530.7,196.5 L531.2,196.52 L531.7,196.54 L532.2,196.56 L532.7,196.66 L533.2,196.76 L533.7,196.86 L534.2,196.88 L534.7,196.9 L535.2,196.92 L535.7,196.84 L536.2,196.76 L536.7,196.68 L537.2,196.7 L537.7,196.72 L538.2,196.74 L538.7,196.8 L539.2,196.87 L539.7,196.94 L540.2,196.96 L540.7,196.98" fill="none" stroke="#1f8f87" stroke-width="1.4" stroke-linejoin="round"/>
<path d="M80.2,199.38 L80.7,199.34 L81.2,199.3 L81.7,199.25 L82.2,199.21 L82.7,199.12 L83.2,199.04 L83.7,198.95 L84.2,198.91 L84.7,198.86 L85.2,198.82 L85.7,198.89 L86.2,198.96 L86.7,199.03 L87.2,198.98 L87.7,198.9 L88.2,198.82 L88.7,198.61 L89.2,198.4 L89.7,198.19 L90.2,198.11 L90.7,198.04 L91.2,197.96 L91.7,197.99 L92.2,198.03 L92.7,198.06 L93.2,197.98 L93.7,197.91 L94.2,197.83 L94.7,197.71 L95.2,197.6 L95.7,197.48 L96.2,197.41 L96.7,197.33 L97.2,197.25 L97.7,197.1 L98.2,196.95 L98.7,196.81 L99.2,196.73 L99.7,196.65 L100.2,196.58 L100.7,196.6 L101.2,196.63 L101.7,196.66 L102.2,196.58 L102.7,196.51 L103.2,196.43 L103.7,196.24 L104.2,196.06 L104.7,195.87 L105.2,195.79 L105.7,195.74 L106.2,195.7 L106.7,195.75 L107.2,195.8 L107.7,195.86 L108.2,195.81 L108.7,195.77 L109.2,195.73 L109.7,195.61 L110.2,195.48 L110.7,195.35 L111.2,195.31 L111.7,195.27 L112.2,195.23 L112.7,195.19 L113.2,195.16 L113.7,195.12 L114.2,195.08 L114.7,195.04 L115.2,195 L115.7,195.03 L116.2,195.07 L116.7,194.8 L117.2,194.45 L117.7,194.1 L118.2,193.76 L118.7,193.69 L119.2,193.89 L119.7,194.1 L120.2,194.21 L120.7,194.33 L121.2,194.44 L121.7,194.33 L122.2,193.99 L122.7,193.65 L123.2,193.47 L123.7,193.3 L124.2,193.12 L124.7,192.97 L125.2,192.82 L125.7,192.8 L126.2,192.79 L126.7,192.78 L127.2,192.77 L127.7,192.85 L128.2,192.93 L128.7,193.02 L129.2,193.01 L129.7,193 L130.2,192.95 L130.7,192.94 L131.2,192.92 L131.7,192.91 L132.2,192.82 L132.7,192.73 L133.2,192.64 L133.7,192.46 L134.2,192.28 L134.7,192.11 L135.2,191.98 L135.7,191.79 L136.2,191.6 L136.7,191.37 L137.2,191.13 L137.7,190.9 L138.2,190.71 L138.7,190.52 L139.2,190.33 L139.7,190.28 L140.2,190.27 L140.7,190.34 L141.2,190.27 L141.7,190.2 L142.2,190.13 L142.7,189.84 L143.2,189.55 L143.7,189.26 L144.2,189.19 L144.7,189.12 L145.2,189.05 L145.7,189.17 L146.2,189.29 L146.7,189.41 L147.2,189.34 L147.7,189.27 L148.2,189.2 L148.7,189 L149.2,188.8 L149.7,188.59 L150.2,188.54 L150.7,188.5 L151.2,188.47 L151.7,188.4 L152.2,188.33 L152.7,188.26 L153.2,188.23 L153.7,188.19 L154.2,188.16 L154.7,188.12 L155.2,188.07 L155.7,188.03 L156.2,188 L156.7,187.96 L157.2,187.93 L157.7,187.94 L158.2,187.95 L158.7,187.96 L159.2,187.92 L159.7,187.89 L160.2,187.85 L160.7,187.93 L161.2,188.01 L161.7,188.09 L162.2,188.06 L162.7,188.02 L163.2,187.98 L163.7,187.8 L164.2,187.45 L164.7,186.87 L165.2,186.44 L165.7,186.18 L166.2,186.2 L166.7,186.32 L167.2,186.43 L167.7,186.55 L168.2,186.67 L168.7,186.94 L169.2,187.22 L169.7,187.51 L170.2,187.57 L170.7,187.31 L171.2,187.04 L171.7,186.76 L172.2,186.56 L172.7,186.42 L173.2,186.27 L173.7,186.13 L174.2,186.04 L174.7,185.96 L175.2,185.9 L175.7,185.92 L176.2,185.94 L176.7,185.97 L177.2,185.95 L177.7,185.93 L178.2,185.91 L178.7,185.77 L179.2,185.64 L179.7,185.51 L180.2,185.56 L180.7,185.74 L181.2,185.91 L181.7,186.09 L182.2,186.39 L182.7,186.89 L183.2,187.39 L183.7,187.56 L184.2,187.22 L184.7,186.91 L185.2,186.6 L185.7,186.3 L186.2,186.05 L186.7,185.95 L187.2,185.85 L187.7,185.86 L188.2,185.88 L188.7,185.89 L189.2,185.79 L189.7,185.69 L190.2,185.61 L190.7,185.5 L191.2,185.39 L191.7,185.28 L192.2,185.23 L192.7,185.18 L193.2,185.13 L193.7,185.05 L194.2,184.98 L194.7,184.9 L195.2,184.85 L195.7,184.8 L196.2,184.75 L196.7,184.76 L197.2,184.78 L197.7,184.79 L198.2,184.74 L198.7,184.69 L199.2,184.64 L199.7,184.56 L200.2,184.49 L200.7,184.45 L201.2,184.44 L201.7,184.43 L202.2,184.42 L202.7,184.38 L203.2,184.33 L203.7,184.29 L204.2,184.28 L204.7,184.27 L205.2,184.26 L205.7,184.36 L206.2,184.47 L206.7,184.57 L207.2,184.56 L207.7,184.55 L208.2,184.54 L208.7,184.51 L209.2,184.48 L209.7,184.45 L210.2,184.45 L210.7,184.49 L211.2,184.52 L211.7,184.45 L212.2,184.37 L212.7,184.3 L213.2,184.47 L213.7,184.85 L214.2,185.22 L214.7,185.67 L215.2,185.89 L215.7,185.75 L216.2,185.53 L216.7,185.32 L217.2,185.1 L217.7,184.87 L218.2,184.72 L218.7,184.68 L219.2,184.66 L219.7,184.63 L220.2,184.61 L220.7,184.66 L221.2,184.72 L221.7,184.78 L222.2,184.96 L222.7,185.46 L223.2,185.96 L223.7,186.43 L224.2,186.89 L224.7,187.36 L225.2,187.51 L225.7,187.15 L226.2,186.78 L226.7,186.31 L227.2,185.84 L227.7,185.37 L228.2,185.15 L228.7,185.13 L229.2,185.12 L229.7,185.26 L230.2,185.41 L230.7,185.56 L231.2,185.54 L231.7,185.53 L232.2,185.51 L232.7,185.29 L233.2,185.08 L233.7,184.86 L234.2,184.85 L234.7,184.83 L235.2,184.82 L235.7,184.87 L236.2,184.93 L236.7,184.98 L237.2,184.97 L237.7,184.95 L238.2,184.99 L238.7,185.2 L239.2,185.41 L239.7,185.62 L240.2,185.75 L240.7,185.87 L241.2,186 L241.7,185.99 L242.2,185.98 L242.7,185.96 L243.2,186.09 L243.7,186.22 L244.2,186.35 L244.7,186.56 L245.2,186.69 L245.7,186.72 L246.2,186.67 L246.7,186.62 L247.2,186.57 L247.7,186.42 L248.2,186.26 L248.7,186.11 L249.2,186.06 L249.7,186.01 L250.2,185.96 L250.7,186.05 L251.2,186.15 L251.7,186.25 L252.2,186.2 L252.7,186.15 L253.2,186.1 L253.7,186.07 L254.2,186.04 L254.7,186.02 L255.2,185.97 L255.7,185.92 L256.2,185.87 L256.7,185.77 L257.2,185.68 L257.7,185.58 L258.2,185.67 L258.7,185.97 L259.2,186.27 L259.7,186.64 L260.2,187.01 L260.7,187.38 L261.2,187.68 L261.7,187.98 L262.2,188.07 L262.7,187.7 L263.2,187.33 L263.7,186.96 L264.2,186.72 L264.7,186.49 L265.2,186.25 L265.7,186.1 L266.2,186.06 L266.7,186.2 L267.2,186.24 L267.7,186.28 L268.2,186.32 L268.7,186.34 L269.2,186.36 L269.7,186.37 L270.2,186.42 L270.7,186.46 L271.2,186.5 L271.7,186.54 L272.2,186.7 L272.7,187.05 L273.2,187.4 L273.7,187.75 L274.2,188.1 L274.7,188.42 L275.2,188.52 L275.7,188.29 L276.2,188.09 L276.7,187.89 L277.2,187.69 L277.7,187.58 L278.2,187.47 L278.7,187.36 L279.2,187.24 L279.7,187.24 L280.2,187.24 L280.7,187.26 L281.2,187.29 L281.7,187.31 L282.2,187.31 L282.7,187.31 L283.2,187.31 L283.7,187.2 L284.2,187.09 L284.7,186.98 L285.2,186.98 L285.7,186.98 L286.2,186.98 L286.7,187.03 L287.2,187.07 L287.7,187.11 L288.2,187.11 L288.7,187.11 L289.2,187.11 L289.7,186.97 L290.2,186.84 L290.7,186.73 L291.2,186.75 L291.7,186.78 L292.2,186.8 L292.7,186.98 L293.2,187.15 L293.7,187.33 L294.2,187.35 L294.7,187.38 L295.2,187.4 L295.7,187.41 L296.2,187.43 L296.7,187.44 L297.2,187.46 L297.7,187.49 L298.2,187.51 L298.7,187.62 L299.2,187.72 L299.7,187.83 L300.2,187.91 L300.7,188.07 L301.2,188.23 L301.7,188.35 L302.2,188.47 L302.7,188.59 L303.2,188.75 L303.7,188.91 L304.2,189.07 L304.7,189.1 L305.2,188.99 L305.7,188.67 L306.2,188.47 L306.7,188.27 L307.2,188.07 L307.7,187.89 L308.2,187.72 L308.7,187.54 L309.2,187.43 L309.7,187.45 L310.2,187.47 L310.7,187.55 L311.2,187.64 L311.7,187.72 L312.2,187.74 L312.7,187.76 L313.2,187.78 L313.7,187.65 L314.2,187.51 L314.7,187.38 L315.2,187.4 L315.7,187.42 L316.2,187.44 L316.7,187.56 L317.2,187.68 L317.7,187.8 L318.2,187.82 L318.7,187.84 L319.2,187.86 L319.7,187.81 L320.2,187.76 L320.7,187.71 L321.2,187.73 L321.7,187.75 L322.2,187.77 L322.7,187.78 L323.2,187.78 L323.7,187.79 L324.2,187.81 L324.7,187.83 L325.2,187.85 L325.7,187.85 L326.2,187.86 L326.7,187.87 L327.2,187.88 L327.7,187.9 L328.2,187.92 L328.7,188.11 L329.2,188.29 L329.7,188.48 L330.2,188.51 L330.7,188.56 L331.2,188.61 L331.7,188.51 L332.2,188.41 L332.7,188.31 L333.2,188.36 L333.7,188.41 L334.2,188.46 L334.7,188.54 L335.2,188.62 L335.7,188.69 L336.2,188.74 L336.7,188.79 L337.2,188.84 L337.7,188.93 L338.2,189 L338.7,189.05 L339.2,189.06 L339.7,189.08 L340.2,189.1 L340.7,189.23 L341.2,189.35 L341.7,189.48 L342.2,189.5 L342.7,189.52 L343.2,189.53 L343.7,189.37 L344.2,189.2 L344.7,189.03 L345.2,189.05 L345.7,189.06 L346.2,189.08 L346.7,189.18 L347.2,189.29 L347.7,189.39 L348.2,189.4 L348.7,189.42 L349.2,189.44 L349.7,189.48 L350.2,189.6 L350.7,189.84 L351.2,190.05 L351.7,190.27 L352.2,190.49 L352.7,190.78 L353.2,190.94 L353.7,190.89 L354.2,190.77 L354.7,190.64 L355.2,190.52 L355.7,190.38 L356.2,190.24 L356.7,190.1 L357.2,190.03 L357.7,190.06 L358.2,190.08 L358.7,190.12 L359.2,190.15 L359.7,190.19 L360.2,190.21 L360.7,190.24 L361.2,190.26 L361.7,190.15 L362.2,190.04 L362.7,189.93 L363.2,189.95 L363.7,189.98 L364.2,190 L364.7,190.06 L365.2,190.12 L365.7,190.18 L366.2,190.2 L366.7,190.23 L367.2,190.25 L367.7,190.26 L368.2,190.27 L368.7,190.29 L369.2,190.31 L369.7,190.34 L370.2,190.36 L370.7,190.51 L371.2,190.66 L371.7,190.8 L372.2,190.83 L372.7,190.85 L373.2,190.88 L373.7,190.92 L374.2,190.96 L374.7,191.01 L375.2,191.11 L375.7,191.32 L376.2,191.54 L376.7,191.57 L377.2,191.6 L377.7,191.63 L378.2,191.71 L378.7,191.6 L379.2,191.49 L379.7,191.38 L380.2,191.27 L380.7,191.17 L381.2,191.05 L381.7,190.94 L382.2,190.88 L382.7,190.93 L383.2,190.97 L383.7,191.01 L384.2,191.03 L384.7,191.06 L385.2,191.09 L385.7,191.12 L386.2,191.15 L386.7,191.17 L387.2,191.2 L387.7,191.23 L388.2,191.26 L388.7,191.34 L389.2,191.43 L389.7,191.52 L390.2,191.55 L390.7,191.57 L391.2,191.6 L391.7,191.65 L392.2,191.7 L392.7,191.76 L393.2,191.78 L393.7,191.81 L394.2,191.84 L394.7,191.79 L395.2,191.74 L395.7,191.7 L396.2,191.72 L396.7,191.75 L397.2,191.78 L397.7,191.75 L398.2,191.71 L398.7,191.68 L399.2,191.71 L399.7,191.74 L400.2,191.81 L400.7,192.06 L401.2,192.31 L401.7,192.55 L402.2,192.7 L402.7,192.85 L403.2,193 L403.7,193.14 L404.2,193.18 L404.7,193.07 L405.2,192.97 L405.7,192.87 L406.2,192.77 L406.7,192.71 L407.2,192.66 L407.7,192.61 L408.2,192.55 L408.7,192.57 L409.2,192.59 L409.7,192.7 L410.2,192.81 L410.7,192.92 L411.2,192.93 L411.7,192.95 L412.2,192.97 L412.7,192.93 L413.2,192.88 L413.7,192.84 L414.2,192.86 L414.7,192.88 L415.2,192.9 L415.7,192.87 L416.2,192.85 L416.7,192.83 L417.2,192.85 L417.7,192.86 L418.2,192.88 L418.7,192.92 L419.2,192.97 L419.7,193.01 L420.2,193.03 L420.7,193.04 L421.2,193.06 L421.7,193.09 L422.2,193.13 L422.7,193.16 L423.2,193.18 L423.7,193.19 L424.2,193.21 L424.7,193.09 L425.2,192.96 L425.7,192.83 L426.2,192.85 L426.7,192.87 L427.2,192.89 L427.7,193.1 L428.2,193.32 L428.7,193.53 L429.2,193.55 L429.7,193.57 L430.2,193.64 L430.7,193.76 L431.2,193.88 L431.7,194.01 L432.2,194.16 L432.7,194.31 L433.2,194.46 L433.7,194.63 L434.2,194.7 L434.7,194.62 L435.2,194.52 L435.7,194.42 L436.2,194.32 L436.7,194.2 L437.2,194.09 L437.7,193.97 L438.2,193.91 L438.7,193.93 L439.2,193.94 L439.7,193.86 L440.2,193.78 L440.7,193.7 L441.2,193.71 L441.7,193.73 L442.2,193.74 L442.7,193.75 L443.2,193.77 L443.7,193.78 L444.2,193.8 L444.7,193.81 L445.2,193.83 L445.7,193.77 L446.2,193.72 L446.7,193.66 L447.2,193.67 L447.7,193.69 L448.2,193.7 L448.7,193.84 L449.2,193.98 L449.7,194.11 L450.2,194.13 L450.7,194.14 L451.2,194.15 L451.7,194.03 L452.2,193.91 L452.7,193.79 L453.2,193.81 L453.7,193.82 L454.2,193.84 L454.7,193.85 L455.2,193.87 L455.7,193.88 L456.2,193.89 L456.7,193.91 L457.2,193.92 L457.7,193.97 L458.2,194.01 L458.7,194.06 L459.2,194.07 L459.7,194.09 L460.2,194.16 L460.7,194.3 L461.2,194.43 L461.7,194.57 L462.2,194.72 L462.7,194.87 L463.2,195.02 L463.7,195.22 L464.2,195.31 L464.7,195.25 L465.2,195.15 L465.7,195.05 L466.2,194.95 L466.7,194.78 L467.2,194.61 L467.7,194.45 L468.2,194.39 L468.7,194.41 L469.2,194.42 L469.7,194.42 L470.2,194.42 L470.7,194.42 L471.2,194.44 L471.7,194.45 L472.2,194.46 L472.7,194.51 L473.2,194.56 L473.7,194.61 L474.2,194.62 L474.7,194.64 L475.2,194.65 L475.7,194.65 L476.2,194.66 L476.7,194.66 L477.2,194.67 L477.7,194.69 L478.2,194.7 L478.7,194.77 L479.2,194.85 L479.7,194.92 L480.2,194.94 L480.7,194.95 L481.2,194.96 L481.7,194.9 L482.2,194.83 L482.7,194.77 L483.2,194.78 L483.7,194.8 L484.2,194.81 L484.7,195.02 L485.2,195.23 L485.7,195.44 L486.2,195.46 L486.7,195.47 L487.2,195.49 L487.7,195.44 L488.2,195.39 L488.7,195.34 L489.2,195.36 L489.7,195.37 L490.2,195.43 L490.7,195.44 L491.2,195.45 L491.7,195.46 L492.2,195.58 L492.7,195.7 L493.2,195.82 L493.7,195.97 L494.2,196.11 L494.7,196.25 L495.2,196.29 L495.7,196.19 L496.2,196.09 L496.7,196.01 L497.2,195.93 L497.7,195.85 L498.2,195.75 L498.7,195.65 L499.2,195.6 L499.7,195.62 L500.2,195.64 L500.7,195.66 L501.2,195.67 L501.7,195.69 L502.2,195.7 L502.7,195.66 L503.2,195.62 L503.7,195.58 L504.2,195.6 L504.7,195.61 L505.2,195.63 L505.7,195.81 L506.2,196 L506.7,196.18 L507.2,196.2 L507.7,196.21 L508.2,196.23 L508.7,196.28 L509.2,196.33 L509.7,196.38 L510.2,196.39 L510.7,196.41 L511.2,196.42 L511.7,196.32 L512.2,196.21 L512.7,196.1 L513.2,196.12 L513.7,196.13 L514.2,196.15 L514.7,196.17 L515.2,196.19 L515.7,196.21 L516.2,196.22 L516.7,196.24 L517.2,196.25 L517.7,196.17 L518.2,196.1 L518.7,196.02 L519.2,196.04 L519.7,196.05 L520.2,196.07 L520.7,196.09 L521.2,196.1 L521.7,196.12 L522.2,196.14 L522.7,196.16 L523.2,196.17 L523.7,196.24 L524.2,196.31 L524.7,196.39 L525.2,196.4 L525.7,196.42 L526.2,196.43 L526.7,196.43 L527.2,196.43 L527.7,196.42 L528.2,196.44 L528.7,196.45 L529.2,196.47 L529.7,196.62 L530.2,196.76 L530.7,196.91 L531.2,196.93 L531.7,196.94 L532.2,196.96 L532.7,196.82 L533.2,196.68 L533.7,196.54 L534.2,196.55 L534.7,196.57 L535.2,196.58 L535.7,196.57 L536.2,196.55 L536.7,196.53 L537.2,196.55 L537.7,196.56 L538.2,196.58 L538.7,196.81 L539.2,197.04 L539.7,197.28 L540.2,197.29 L540.7,197.31" fill="none" stroke="#e22e7c" stroke-width="1.4" stroke-linejoin="round"/>
<rect x="439" y="139" width="100" height="47" fill="#fff"/>
<rect x="442.3" y="147.6" width="24" height="4.6" fill="#137d7b"/>
<rect x="442.3" y="161.8" width="24" height="4.6" fill="#e60c5e"/>
<rect x="442.3" y="176" width="24" height="4.6" fill="#000"/>
<text class="dj" x="471" y="153.6" font-size="9.2">Aggresive</text>
<text class="dj" x="471" y="167.8" font-size="9.2">Conservative</text>
<text class="dj" x="471" y="182.0" font-size="9.2">Outflow</text>
<rect x="79.8" y="137.4" width="461.4" height="125.1" fill="none" stroke="#aaaaaa" stroke-width="1.6" stroke-linejoin="round"/>
<line x1="77.3" y1="156.25" x2="79.8" y2="156.25" stroke="#555" stroke-width="0.9"/>
<text class="dj" transform="translate(75.3,161.35) scale(0.88,1)" font-size="10.9" text-anchor="end">100</text>
<line x1="77.3" y1="178.08" x2="79.8" y2="178.08" stroke="#555" stroke-width="0.9"/>
<text class="dj" transform="translate(75.3,183.18) scale(0.88,1)" font-size="10.9" text-anchor="end">50</text>
<line x1="77.3" y1="199.9" x2="79.8" y2="199.9" stroke="#555" stroke-width="0.9"/>
<text class="dj" transform="translate(75.3,205) scale(0.88,1)" font-size="10.9" text-anchor="end">0</text>
<line x1="77.3" y1="221.72" x2="79.8" y2="221.72" stroke="#555" stroke-width="0.9"/>
<text class="dj" transform="translate(75.3,226.82) scale(0.88,1)" font-size="10.9" text-anchor="end">−50</text>
<line x1="77.3" y1="243.55" x2="79.8" y2="243.55" stroke="#555" stroke-width="0.9"/>
<text class="dj" transform="translate(75.3,248.65) scale(0.88,1)" font-size="10.9" text-anchor="end">−100</text>
<line x1="79.8" y1="262.5" x2="79.8" y2="265.0" stroke="#555" stroke-width="0.9"/>
<text class="dj" transform="translate(80.1,276.0) scale(0.88,1)" font-size="10.8" text-anchor="middle">0</text>
<line x1="156.7" y1="262.5" x2="156.7" y2="265.0" stroke="#555" stroke-width="0.9"/>
<text class="dj" transform="translate(157,276.0) scale(0.88,1)" font-size="10.8" text-anchor="middle">5</text>
<line x1="233.6" y1="262.5" x2="233.6" y2="265.0" stroke="#555" stroke-width="0.9"/>
<text class="dj" transform="translate(233.9,276.0) scale(0.88,1)" font-size="10.8" text-anchor="middle">10</text>
<line x1="310.5" y1="262.5" x2="310.5" y2="265.0" stroke="#555" stroke-width="0.9"/>
<text class="dj" transform="translate(310.8,276.0) scale(0.88,1)" font-size="10.8" text-anchor="middle">15</text>
<line x1="387.4" y1="262.5" x2="387.4" y2="265.0" stroke="#555" stroke-width="0.9"/>
<text class="dj" transform="translate(387.7,276.0) scale(0.88,1)" font-size="10.8" text-anchor="middle">20</text>
<line x1="464.3" y1="262.5" x2="464.3" y2="265.0" stroke="#555" stroke-width="0.9"/>
<text class="dj" transform="translate(464.6,276.0) scale(0.88,1)" font-size="10.8" text-anchor="middle">25</text>
<line x1="541.2" y1="262.5" x2="541.2" y2="265.0" stroke="#555" stroke-width="0.9"/>
<text class="dj" transform="translate(541.5,276.0) scale(0.88,1)" font-size="10.8" text-anchor="middle">30</text>
<text class="dj" x="310.4" y="289.3" font-size="10.4" text-anchor="middle">Time (min)</text>
<text class="dj" font-size="10.7" text-anchor="middle" transform="translate(42.6,200.8) rotate(-90)">Flow Rate (mL/min)</text>
<text class="lb" x="2.8" y="19.4" font-size="12" style="stroke-width:0.4px">(A)</text>
<text class="lb" x="2.8" y="154.4" font-size="12" style="stroke-width:0.4px">(B)</text>
<line x1="119.67" y1="314.5" x2="119.67" y2="438.6" stroke="#e8e8e8" stroke-width="1"/>
<line x1="166.55" y1="314.5" x2="166.55" y2="438.6" stroke="#e8e8e8" stroke-width="1"/>
<line x1="213.43" y1="314.5" x2="213.43" y2="438.6" stroke="#e8e8e8" stroke-width="1"/>
<rect x="73.4" y="320.2" width="155.96" height="8.6" fill="#a3a3a3" stroke="#a3a3a3" stroke-width="1.3"/>
<line x1="229.36" y1="324.5" x2="231.71" y2="324.5" stroke="#000" stroke-width="1.1"/>
<line x1="231.71" y1="321.9" x2="231.71" y2="327.1" stroke="#000" stroke-width="1.3"/>
<line x1="67.7" y1="324.5" x2="72.8" y2="324.5" stroke="#000" stroke-width="1.2"/>
<text class="lb" x="65.6" y="327.5" font-size="9.6" text-anchor="end">DT: Agg</text>
<rect x="73.4" y="335.15" width="108.71" height="8.6" fill="#fff" stroke="#a3a3a3" stroke-width="1.3"/>
<line x1="182.11" y1="339.45" x2="189.61" y2="339.45" stroke="#000" stroke-width="1.1"/>
<line x1="189.61" y1="336.85" x2="189.61" y2="342.05" stroke="#000" stroke-width="1.3"/>
<line x1="67.7" y1="339.45" x2="72.8" y2="339.45" stroke="#000" stroke-width="1.2"/>
<text class="lb" x="65.6" y="342.45" font-size="9.6" text-anchor="end">DT: Con</text>
<rect x="73.4" y="350.1" width="6.9" height="8.6" fill="#878787" stroke="#878787" stroke-width="1.3"/>
<line x1="80.3" y1="354.4" x2="81.24" y2="354.4" stroke="#000" stroke-width="1.1"/>
<line x1="81.24" y1="351.8" x2="81.24" y2="357" stroke="#000" stroke-width="1.3"/>
<line x1="67.7" y1="354.4" x2="72.8" y2="354.4" stroke="#000" stroke-width="1.2"/>
<text class="lb" x="65.6" y="357.4" font-size="9.6" text-anchor="end">SFL: Agg</text>
<rect x="73.4" y="365.05" width="8.12" height="8.6" fill="#fff" stroke="#878787" stroke-width="1.3"/>
<line x1="81.52" y1="369.35" x2="82.83" y2="369.35" stroke="#000" stroke-width="1.1"/>
<line x1="82.83" y1="366.75" x2="82.83" y2="371.95" stroke="#000" stroke-width="1.3"/>
<line x1="67.7" y1="369.35" x2="72.8" y2="369.35" stroke="#000" stroke-width="1.2"/>
<text class="lb" x="65.6" y="372.35" font-size="9.6" text-anchor="end">SFL: Con</text>
<rect x="73.4" y="380" width="15.53" height="8.6" fill="#626262" stroke="#626262" stroke-width="1.3"/>
<line x1="88.92" y1="384.3" x2="90.52" y2="384.3" stroke="#000" stroke-width="1.1"/>
<line x1="90.52" y1="381.7" x2="90.52" y2="386.9" stroke="#000" stroke-width="1.3"/>
<line x1="67.7" y1="384.3" x2="72.8" y2="384.3" stroke="#000" stroke-width="1.2"/>
<text class="lb" x="65.6" y="387.3" font-size="9.6" text-anchor="end">DFL: Agg</text>
<rect x="73.4" y="394.95" width="7.46" height="8.6" fill="#fff" stroke="#626262" stroke-width="1.3"/>
<line x1="80.86" y1="399.25" x2="82.08" y2="399.25" stroke="#000" stroke-width="1.1"/>
<line x1="82.08" y1="396.65" x2="82.08" y2="401.85" stroke="#000" stroke-width="1.3"/>
<line x1="67.7" y1="399.25" x2="72.8" y2="399.25" stroke="#000" stroke-width="1.2"/>
<text class="lb" x="65.6" y="402.25" font-size="9.6" text-anchor="end">DFL: Con</text>
<rect x="73.4" y="409.9" width="69.06" height="8.6" fill="#000" stroke="#000" stroke-width="1.3"/>
<line x1="142.46" y1="414.2" x2="152.02" y2="414.2" stroke="#000" stroke-width="1.1"/>
<line x1="152.02" y1="411.6" x2="152.02" y2="416.8" stroke="#000" stroke-width="1.3"/>
<line x1="67.7" y1="414.2" x2="72.8" y2="414.2" stroke="#000" stroke-width="1.2"/>
<text class="lb" x="65.6" y="417.2" font-size="9.6" text-anchor="end">PID: Agg</text>
<rect x="73.4" y="424.85" width="8.96" height="8.6" fill="#fff" stroke="#000" stroke-width="1.3"/>
<line x1="82.36" y1="429.15" x2="85.36" y2="429.15" stroke="#000" stroke-width="1.1"/>
<line x1="85.36" y1="426.55" x2="85.36" y2="431.75" stroke="#000" stroke-width="1.3"/>
<line x1="67.7" y1="429.15" x2="72.8" y2="429.15" stroke="#000" stroke-width="1.2"/>
<text class="lb" x="65.6" y="432.15" font-size="9.6" text-anchor="end">PID: Con</text>
<rect x="72.8" y="314.5" width="187.5" height="124.1" fill="none" stroke="#000" stroke-width="1.2"/>
<line x1="72.8" y1="438.6" x2="72.8" y2="444.0" stroke="#000" stroke-width="1.2"/>
<text class="lb" x="72.8" y="455.3" font-size="9.3" text-anchor="middle" style="stroke-width:0.42px">0</text>
<line x1="119.67" y1="438.6" x2="119.67" y2="444.0" stroke="#000" stroke-width="1.2"/>
<text class="lb" x="119.67" y="455.3" font-size="9.3" text-anchor="middle" style="stroke-width:0.42px">50</text>
<line x1="166.55" y1="438.6" x2="166.55" y2="444.0" stroke="#000" stroke-width="1.2"/>
<text class="lb" x="166.55" y="455.3" font-size="9.3" text-anchor="middle" style="stroke-width:0.42px">100</text>
<line x1="213.43" y1="438.6" x2="213.43" y2="444.0" stroke="#000" stroke-width="1.2"/>
<text class="lb" x="213.43" y="455.3" font-size="9.3" text-anchor="middle" style="stroke-width:0.42px">150</text>
<line x1="260.3" y1="438.6" x2="260.3" y2="444.0" stroke="#000" stroke-width="1.2"/>
<text class="lb" x="260.3" y="455.3" font-size="9.3" text-anchor="middle" style="stroke-width:0.42px">200</text>
<text class="lb" x="166.4" y="470.6" font-size="10.2" text-anchor="middle">% Infusion Rate Variability</text>
<text class="lb" x="2.8" y="325.2" font-size="12" style="stroke-width:0.4px">(C)</text>
<line x1="417.17" y1="314.5" x2="417.17" y2="438.6" stroke="#e8e8e8" stroke-width="1"/>
<line x1="479.33" y1="314.5" x2="479.33" y2="438.6" stroke="#e8e8e8" stroke-width="1"/>
<rect x="355.6" y="320.2" width="0.64" height="8.6" fill="#a3a3a3" stroke="#a3a3a3" stroke-width="1.3"/>
<line x1="356.24" y1="324.5" x2="356.87" y2="324.5" stroke="#000" stroke-width="1.1"/>
<line x1="356.87" y1="321.9" x2="356.87" y2="327.1" stroke="#000" stroke-width="1.3"/>
<line x1="349.9" y1="324.5" x2="355" y2="324.5" stroke="#000" stroke-width="1.2"/>
<text class="lb" x="347.6" y="327.5" font-size="9.6" text-anchor="end">DT: Agg</text>
<rect x="355.6" y="335.15" width="0.64" height="8.6" fill="#fff" stroke="#a3a3a3" stroke-width="1.3"/>
<line x1="356.24" y1="339.45" x2="357.49" y2="339.45" stroke="#000" stroke-width="1.1"/>
<line x1="357.49" y1="336.85" x2="357.49" y2="342.05" stroke="#000" stroke-width="1.3"/>
<line x1="349.9" y1="339.45" x2="355" y2="339.45" stroke="#000" stroke-width="1.2"/>
<text class="lb" x="347.6" y="342.45" font-size="9.6" text-anchor="end">DT: Con</text>
<rect x="355.6" y="350.1" width="50.13" height="8.6" fill="#878787" stroke="#878787" stroke-width="1.3"/>
<line x1="405.73" y1="354.4" x2="406.97" y2="354.4" stroke="#000" stroke-width="1.1"/>
<line x1="406.97" y1="351.8" x2="406.97" y2="357" stroke="#000" stroke-width="1.3"/>
<line x1="349.9" y1="354.4" x2="355" y2="354.4" stroke="#000" stroke-width="1.2"/>
<text class="lb" x="347.6" y="357.4" font-size="9.6" text-anchor="end">SFL: Agg</text>
<rect x="355.6" y="365.05" width="120.25" height="8.6" fill="#fff" stroke="#878787" stroke-width="1.3"/>
<line x1="475.85" y1="369.35" x2="480.58" y2="369.35" stroke="#000" stroke-width="1.1"/>
<line x1="480.58" y1="366.75" x2="480.58" y2="371.95" stroke="#000" stroke-width="1.3"/>
<line x1="349.9" y1="369.35" x2="355" y2="369.35" stroke="#000" stroke-width="1.2"/>
<text class="lb" x="347.6" y="372.35" font-size="9.6" text-anchor="end">SFL: Con</text>
<rect x="355.6" y="380" width="1.89" height="8.6" fill="#626262" stroke="#626262" stroke-width="1.3"/>
<line x1="357.49" y1="384.3" x2="358.73" y2="384.3" stroke="#000" stroke-width="1.1"/>
<line x1="358.73" y1="381.7" x2="358.73" y2="386.9" stroke="#000" stroke-width="1.3"/>
<line x1="349.9" y1="384.3" x2="355" y2="384.3" stroke="#000" stroke-width="1.2"/>
<text class="lb" x="347.6" y="387.3" font-size="9.6" text-anchor="end">DFL: Agg</text>
<rect x="355.6" y="394.95" width="49.88" height="8.6" fill="#fff" stroke="#626262" stroke-width="1.3"/>
<line x1="405.48" y1="399.25" x2="406.23" y2="399.25" stroke="#000" stroke-width="1.1"/>
<line x1="406.23" y1="396.65" x2="406.23" y2="401.85" stroke="#000" stroke-width="1.3"/>
<line x1="349.9" y1="399.25" x2="355" y2="399.25" stroke="#000" stroke-width="1.2"/>
<text class="lb" x="347.6" y="402.25" font-size="9.6" text-anchor="end">DFL: Con</text>
<rect x="355.6" y="409.9" width="20.66" height="8.6" fill="#000" stroke="#000" stroke-width="1.3"/>
<line x1="376.26" y1="414.2" x2="382.1" y2="414.2" stroke="#000" stroke-width="1.1"/>
<line x1="382.1" y1="411.6" x2="382.1" y2="416.8" stroke="#000" stroke-width="1.3"/>
<line x1="349.9" y1="414.2" x2="355" y2="414.2" stroke="#000" stroke-width="1.2"/>
<text class="lb" x="347.6" y="417.2" font-size="9.6" text-anchor="end">PID: Agg</text>
<rect x="355.6" y="424.85" width="46.15" height="8.6" fill="#fff" stroke="#000" stroke-width="1.3"/>
<line x1="401.75" y1="429.15" x2="413.06" y2="429.15" stroke="#000" stroke-width="1.1"/>
<line x1="413.06" y1="426.55" x2="413.06" y2="431.75" stroke="#000" stroke-width="1.3"/>
<line x1="349.9" y1="429.15" x2="355" y2="429.15" stroke="#000" stroke-width="1.2"/>
<text class="lb" x="347.6" y="432.15" font-size="9.6" text-anchor="end">PID: Con</text>
<rect x="355.0" y="314.5" width="186.5" height="124.1" fill="none" stroke="#000" stroke-width="1.2"/>
<line x1="355" y1="438.6" x2="355" y2="444.0" stroke="#000" stroke-width="1.2"/>
<text class="lb" x="355" y="455.3" font-size="9.3" text-anchor="middle" style="stroke-width:0.42px">0</text>
<line x1="417.17" y1="438.6" x2="417.17" y2="444.0" stroke="#000" stroke-width="1.2"/>
<text class="lb" x="417.17" y="455.3" font-size="9.3" text-anchor="middle" style="stroke-width:0.42px">5</text>
<line x1="479.33" y1="438.6" x2="479.33" y2="444.0" stroke="#000" stroke-width="1.2"/>
<text class="lb" x="479.33" y="455.3" font-size="9.3" text-anchor="middle" style="stroke-width:0.42px">10</text>
<line x1="541.5" y1="438.6" x2="541.5" y2="444.0" stroke="#000" stroke-width="1.2"/>
<text class="lb" x="541.5" y="455.3" font-size="9.3" text-anchor="middle" style="stroke-width:0.42px">15</text>
<text class="lb" x="448.6" y="470.6" font-size="10.2" text-anchor="middle">% Area Below Target Pressure, Relative</text>
<text class="lb" x="448.6" y="483.7" font-size="10.2" text-anchor="middle">to Target Pressure and Scenario Time</text>
<text class="lb" x="284.6" y="325.2" font-size="12" style="stroke-width:0.4px">(D)</text>
</svg></body></html>
